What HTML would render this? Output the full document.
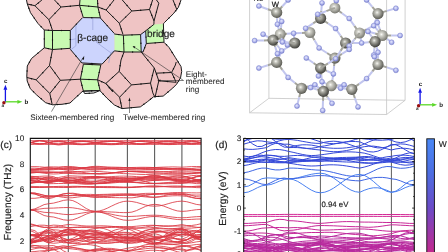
<!DOCTYPE html>
<html><head><meta charset="utf-8"><style>
html,body{margin:0;padding:0;background:#fff;width:448px;height:252px;overflow:hidden}
svg{display:block;text-rendering:geometricPrecision}
</style></head><body>
<svg width="448" height="252" viewBox="0 0 448 252">
<defs>
<radialGradient id="gWl" cx="0.42" cy="0.4" r="0.62"><stop offset="0" stop-color="#fbfbf8"/><stop offset="0.25" stop-color="#d2d2ca"/><stop offset="0.6" stop-color="#a8a8a0"/><stop offset="1" stop-color="#74746c"/></radialGradient>
<radialGradient id="gWm" cx="0.42" cy="0.4" r="0.62"><stop offset="0" stop-color="#f8f8f4"/><stop offset="0.25" stop-color="#c4c4bc"/><stop offset="0.6" stop-color="#8e8e86"/><stop offset="1" stop-color="#56564f"/></radialGradient>
<radialGradient id="gWd" cx="0.42" cy="0.4" r="0.62"><stop offset="0" stop-color="#f2f2ee"/><stop offset="0.25" stop-color="#b2b2aa"/><stop offset="0.6" stop-color="#777770"/><stop offset="1" stop-color="#3a3a36"/></radialGradient>
<radialGradient id="gN" cx="0.45" cy="0.4" r="0.6"><stop offset="0" stop-color="#e6e8fd"/><stop offset="0.55" stop-color="#b4b9ee"/><stop offset="1" stop-color="#7a82cf"/></radialGradient>
</defs>
<rect width="448" height="252" fill="#fff"/>
<polygon points="26.5,0.0 181.0,0.0 178.3,7.5 173.3,13.8 164.5,22.5 163.4,23.8 164.0,42.3 169.0,47.4 175.4,57.6 181.0,66.5 181.7,71.5 180.5,77.9 176.6,84.2 172.8,88.0 163.2,96.1 153.7,96.7 147.3,101.8 140.3,106.9 122.0,108.6 114.4,105.0 106.8,98.0 99.8,90.5 83.0,91.2 82.0,91.8 73.6,99.6 70.0,103.0 62.0,104.3 52.6,104.8 45.6,102.7 36.7,95.0 30.3,88.7 27.2,81.0 26.8,76.0 27.3,66.0 31.5,58.5 44.3,47.8 44.3,30.0 38.0,23.5 30.5,12.7 27.3,4.0" fill="#efc4c4"/>
<polygon points="80.0,0.0 97.5,0.0 97.9,7.0 100.4,17.8 83.3,17.6 79.5,5.3" fill="#c8fab2"/>
<polygon points="44.3,30.0 52.5,30.5 70.3,30.5 70.3,48.3 52.5,49.5 44.3,47.8" fill="#c8fab2"/>
<polygon points="114.3,34.0 123.4,35.2 124.0,52.0 114.3,50.8" fill="#c8fab2"/>
<polygon points="123.4,35.2 140.6,34.6 141.2,52.0 124.0,52.0" fill="#c8fab2"/>
<polygon points="145.7,30.8 153.9,24.4 163.4,23.8 164.0,42.2 146.3,43.5" fill="#c8fab2"/>
<polygon points="83.4,64.2 100.8,65.0 97.6,79.8 80.4,79.2" fill="#c8fab2"/>
<polygon points="80.4,79.2 97.6,79.8 100.1,90.5 83.4,91.1" fill="#c8fab2"/>
<polygon points="83.4,91.1 100.1,90.5 93.8,93.0 84.6,93.5" fill="#f4f4f4"/>
<polygon points="82.5,17.7 100.2,17.8 114.3,33.5 114.3,51.0 102.1,64.1 81.8,62.9 70.3,49.3 70.3,30.5" fill="#ccd4fd"/>
<polygon points="140.6,34.6 145.7,30.8 146.3,43.5 143.0,52.0 141.2,52.0" fill="#ccd4fd"/>
<g stroke="#98a0d8" stroke-width="0.7" fill="none"><polyline points="92.8,18 92.8,30"/><polyline points="95.8,41.8 110.7,52.7 114.3,50.9"/><polyline points="110.7,52.7 108.7,63"/><polyline points="75.9,24.5 75.9,45.8 70.5,50"/><polyline points="70.5,39.8 75.9,38.8"/></g>
<g stroke="#1a1a1a" stroke-width="1" fill="none" stroke-linejoin="round">
<polyline points="181.0,0.0 178.3,7.5 173.3,13.8 164.5,22.5 163.4,23.8 164.0,42.3 169.0,47.4 175.4,57.6 181.0,66.5 181.7,71.5 180.5,77.9 176.6,84.2 172.8,88.0 163.2,96.1 153.7,96.7 147.3,101.8 140.3,106.9 122.0,108.6 114.4,105.0 106.8,98.0 99.8,90.5 83.0,91.2 82.0,91.8 73.6,99.6 70.0,103.0 62.0,104.3 52.6,104.8 45.6,102.7 36.7,95.0 30.3,88.7 27.2,81.0 26.8,76.0 27.3,66.0 31.5,58.5 44.3,47.8 44.3,30.0 38.0,23.5 30.5,12.7 27.3,4.0 26.5,0.0"/>
<polyline points="27.3,4.0 34.9,5.7 41.9,0.0"/>
<polyline points="34.9,5.7 48.9,19.7 61.1,7.0 54.5,0.0"/>
<polyline points="61.1,7.0 79.5,5.3 97.9,7.0 106.1,10.0 114.0,0.0"/>
<polyline points="48.9,19.7 52.5,30.5"/>
<polyline points="80.0,0.0 79.5,5.3 83.3,17.6 100.4,17.8 97.9,7.0 97.5,0.0"/>
<polyline points="106.1,10.0 119.3,23.2"/>
<polyline points="122.3,0.0 131.8,11.0 149.5,9.5 152.6,0.0"/>
<polyline points="131.8,11.0 119.3,23.2 123.0,34.5"/>
<polyline points="149.5,9.5 154.0,21.0 153.9,24.4"/>
<polyline points="156.5,0.0 158.8,3.2 154.0,21.0"/>
<polyline points="173.0,0.0 176.8,9.5"/>
<polyline points="44.3,30.0 52.5,30.5 70.3,30.5 70.3,48.3 52.5,49.5 44.3,47.8"/>
<polyline points="52.5,30.5 52.5,49.5"/>
<polyline points="70.3,30.5 82.5,17.7"/>
<polyline points="100.2,17.8 114.3,33.5"/>
<polyline points="70.3,49.3 81.8,62.9 102.1,64.1 114.3,51.0"/>
<polyline points="114.3,34.0 123.4,35.2 140.6,34.6 141.2,52.0 124.0,52.0 114.3,50.8"/>
<polyline points="123.4,35.2 124.0,52.0"/>
<polyline points="140.6,34.6 145.7,30.8 153.9,24.4"/>
<polyline points="146.3,43.5 164.0,42.2"/>
<polyline points="141.2,52.0 143.0,52.0 146.3,43.5 145.7,30.8"/>
<polyline points="83.4,64.2 100.8,65.0 97.6,79.8 80.4,79.2 83.4,64.2"/>
<polyline points="97.6,79.8 100.1,90.5 83.4,91.1 80.4,79.2"/>
<polyline points="83.4,91.1 84.6,93.5 93.8,93.0 100.1,90.5"/>
<polyline points="49.5,65.5 60.4,80.3 49.8,93.5 36.1,79.8 49.5,65.5"/>
<polyline points="49.5,65.5 52.5,49.5"/>
<polyline points="36.1,79.8 26.9,77.5"/>
<polyline points="49.8,93.5 52.2,104.6"/>
<polyline points="60.4,80.3 80.4,79.2"/>
<polyline points="97.6,79.8 105.8,83.5 119.2,71.4 131.5,84.9 119.6,97.2 105.8,83.5"/>
<polyline points="119.2,71.4 121.0,60.0 124.0,52.0"/>
<polyline points="105.8,83.5 112.8,92.0"/>
<polyline points="131.5,84.9 150.5,83.1"/>
<polyline points="119.6,97.2 122.0,108.6"/>
<polyline points="141.2,52.0 154.3,68.0 150.5,83.1 152.8,92.9 155.0,97.4"/>
<polyline points="154.3,68.0 158.8,80.8 155.0,97.4"/>
<polyline points="156.0,73.2 171.6,72.5 176.2,82.3 158.8,80.8"/>
<polyline points="171.6,72.5 175.4,65.0 176.2,62.0"/>
</g>
<g fill="#111"><circle cx="27.1" cy="71.0" r="0.7"/><circle cx="28.8" cy="84.8" r="0.7"/><circle cx="28.9" cy="8.3" r="0.7"/><circle cx="29.4" cy="62.2" r="0.7"/><circle cx="31.1" cy="4.8" r="0.7"/><circle cx="31.5" cy="78.7" r="0.7"/><circle cx="33.5" cy="91.8" r="0.7"/><circle cx="34.2" cy="18.1" r="0.7"/><circle cx="37.9" cy="53.1" r="0.7"/><circle cx="38.4" cy="2.9" r="0.7"/><circle cx="41.1" cy="26.8" r="0.7"/><circle cx="41.2" cy="98.8" r="0.7"/><circle cx="41.9" cy="12.7" r="0.7"/><circle cx="42.8" cy="72.7" r="0.7"/><circle cx="43.0" cy="86.7" r="0.7"/><circle cx="44.3" cy="38.9" r="0.7"/><circle cx="48.4" cy="30.2" r="0.7"/><circle cx="48.4" cy="48.6" r="0.7"/><circle cx="49.1" cy="103.8" r="0.7"/><circle cx="50.7" cy="25.1" r="0.7"/><circle cx="51.0" cy="57.5" r="0.7"/><circle cx="51.0" cy="99.0" r="0.7"/><circle cx="52.5" cy="40.0" r="0.7"/><circle cx="55.0" cy="13.3" r="0.7"/><circle cx="55.0" cy="72.9" r="0.7"/><circle cx="55.1" cy="86.9" r="0.7"/><circle cx="57.3" cy="104.5" r="0.7"/><circle cx="57.8" cy="3.5" r="0.7"/><circle cx="61.4" cy="30.5" r="0.7"/><circle cx="61.4" cy="48.9" r="0.7"/><circle cx="66.0" cy="103.7" r="0.7"/><circle cx="70.3" cy="6.2" r="0.7"/><circle cx="70.3" cy="39.4" r="0.7"/><circle cx="70.4" cy="79.8" r="0.7"/><circle cx="76.0" cy="56.1" r="0.7"/><circle cx="76.4" cy="24.1" r="0.7"/><circle cx="77.8" cy="95.7" r="0.7"/><circle cx="81.4" cy="11.5" r="0.7"/><circle cx="81.9" cy="71.7" r="0.7"/><circle cx="81.9" cy="85.2" r="0.7"/><circle cx="88.7" cy="6.2" r="0.7"/><circle cx="89.0" cy="79.5" r="0.7"/><circle cx="89.2" cy="93.2" r="0.7"/><circle cx="91.4" cy="90.8" r="0.7"/><circle cx="91.8" cy="17.7" r="0.7"/><circle cx="91.8" cy="90.8" r="0.7"/><circle cx="91.9" cy="63.5" r="0.7"/><circle cx="92.1" cy="64.6" r="0.7"/><circle cx="97.7" cy="3.5" r="0.7"/><circle cx="98.8" cy="85.2" r="0.7"/><circle cx="99.2" cy="12.4" r="0.7"/><circle cx="99.2" cy="72.4" r="0.7"/><circle cx="101.7" cy="81.7" r="0.7"/><circle cx="102.0" cy="8.5" r="0.7"/><circle cx="103.3" cy="94.2" r="0.7"/><circle cx="107.2" cy="25.6" r="0.7"/><circle cx="108.2" cy="57.5" r="0.7"/><circle cx="109.3" cy="87.8" r="0.7"/><circle cx="110.0" cy="5.0" r="0.7"/><circle cx="110.6" cy="101.5" r="0.7"/><circle cx="112.5" cy="77.5" r="0.7"/><circle cx="112.7" cy="16.6" r="0.7"/><circle cx="112.7" cy="90.3" r="0.7"/><circle cx="118.2" cy="106.8" r="0.7"/><circle cx="118.8" cy="34.6" r="0.7"/><circle cx="119.2" cy="51.4" r="0.7"/><circle cx="120.1" cy="65.7" r="0.7"/><circle cx="120.8" cy="102.9" r="0.7"/><circle cx="121.2" cy="28.9" r="0.7"/><circle cx="122.5" cy="56.0" r="0.7"/><circle cx="123.7" cy="43.6" r="0.7"/><circle cx="125.3" cy="78.2" r="0.7"/><circle cx="125.5" cy="91.1" r="0.7"/><circle cx="125.6" cy="17.1" r="0.7"/><circle cx="127.1" cy="5.5" r="0.7"/><circle cx="131.2" cy="107.8" r="0.7"/><circle cx="132.0" cy="34.9" r="0.7"/><circle cx="132.6" cy="52.0" r="0.7"/><circle cx="140.7" cy="10.2" r="0.7"/><circle cx="140.9" cy="43.3" r="0.7"/><circle cx="141.0" cy="84.0" r="0.7"/><circle cx="143.8" cy="104.3" r="0.7"/><circle cx="144.7" cy="47.8" r="0.7"/><circle cx="146.0" cy="37.1" r="0.7"/><circle cx="147.8" cy="60.0" r="0.7"/><circle cx="149.8" cy="27.6" r="0.7"/><circle cx="150.5" cy="99.2" r="0.7"/><circle cx="151.1" cy="4.8" r="0.7"/><circle cx="151.7" cy="88.0" r="0.7"/><circle cx="151.8" cy="15.2" r="0.7"/><circle cx="152.4" cy="75.5" r="0.7"/><circle cx="155.2" cy="42.9" r="0.7"/><circle cx="156.4" cy="12.1" r="0.7"/><circle cx="156.6" cy="74.4" r="0.7"/><circle cx="156.9" cy="89.1" r="0.7"/><circle cx="158.4" cy="96.4" r="0.7"/><circle cx="163.7" cy="33.0" r="0.7"/><circle cx="163.8" cy="72.8" r="0.7"/><circle cx="166.5" cy="44.8" r="0.7"/><circle cx="167.5" cy="81.5" r="0.7"/><circle cx="168.0" cy="92.0" r="0.7"/><circle cx="168.9" cy="18.1" r="0.7"/><circle cx="172.2" cy="52.5" r="0.7"/><circle cx="173.5" cy="68.8" r="0.7"/><circle cx="173.9" cy="77.4" r="0.7"/><circle cx="174.9" cy="4.8" r="0.7"/><circle cx="175.8" cy="10.7" r="0.7"/><circle cx="178.2" cy="62.0" r="0.7"/><circle cx="178.6" cy="81.1" r="0.7"/><circle cx="179.7" cy="3.8" r="0.7"/></g>
<g stroke="#333" stroke-width="0.6" fill="none"><line x1="51.5" y1="111.6" x2="83.0" y2="57.6"/><line x1="129.5" y1="113" x2="129.5" y2="100"/><line x1="183.5" y1="80.5" x2="159" y2="80.5"/><line x1="183.5" y1="80.5" x2="134.2" y2="47"/></g>
<g fill="#111"><polygon points="84.2,55.8 82.0,59.3 84.0,59.8"/><polygon points="129.5,97.5 128.4,101 130.6,101"/><polygon points="157.2,80.5 160.5,79.4 160.5,81.6"/><polygon points="132.6,46 135.4,46.4 134.3,48.6"/></g>
<g font-family="Liberation Sans, sans-serif" fill="#222" stroke="#222" stroke-width="0.18"><text x="77.3" y="41.1" font-size="10">β-cage</text><text x="147" y="37.2" font-size="10">bridge</text><text x="30.2" y="119.7" font-size="8.1" stroke-width="0.04">Sixteen-membered ring</text><text x="122.9" y="119.7" font-size="8.1" stroke-width="0.04">Twelve-membered ring</text><text x="185.8" y="76.5" font-size="8.1" stroke-width="0.04">Eight-</text><text x="185.8" y="84.1" font-size="8.1" stroke-width="0.04">membered</text><text x="185.8" y="91.7" font-size="8.1" stroke-width="0.04">ring</text></g>
<line x1="5.4" y1="101.8" x2="5.4" y2="89.3" stroke="#1414e6" stroke-width="1.3"/>
<polygon points="5.4,84.8 3.5000000000000004,89.8 7.300000000000001,89.8" fill="#1414e6"/>
<line x1="5.4" y1="101.8" x2="17.9" y2="101.8" stroke="#5ad828" stroke-width="1.3"/>
<polygon points="22.4,101.8 17.4,99.89999999999999 17.4,103.7" fill="#5ad828"/>
<circle cx="3.9000000000000004" cy="102.8" r="1.7" fill="#9a1010"/>
<g font-family="Liberation Sans, sans-serif" font-size="6.2" font-weight="bold" fill="#222"><text x="5.800000000000001" y="83.0" text-anchor="middle">c</text><text x="24.5" y="104.1">b</text><text x="1.4000000000000004" y="107.0" font-size="4.6">a</text></g>
<g stroke="#c4c4c4" stroke-width="0.8" fill="none"><polyline points="249.6,0 249.6,112.8 386.6,114.5 386.6,0"/><polyline points="268.9,0 268.9,98.3 405.1,100.3 405.1,0"/><line x1="249.6" y1="112.8" x2="268.9" y2="98.3"/><line x1="386.6" y1="114.5" x2="405.1" y2="100.3"/></g>
<line x1="273.1" y1="40.1" x2="263.9" y2="40.4" stroke="#a4a49c" stroke-width="2"/>
<line x1="263.9" y1="40.4" x2="254.6" y2="40.6" stroke="#c2c6ee" stroke-width="2"/>
<line x1="273.1" y1="40.1" x2="268.1" y2="37.2" stroke="#a4a49c" stroke-width="2"/>
<line x1="268.1" y1="37.2" x2="263.1" y2="34.2" stroke="#c2c6ee" stroke-width="2"/>
<line x1="273.1" y1="40.1" x2="275.2" y2="46.9" stroke="#a4a49c" stroke-width="2"/>
<line x1="275.2" y1="46.9" x2="277.4" y2="53.7" stroke="#c2c6ee" stroke-width="2"/>
<line x1="273.1" y1="40.1" x2="277.4" y2="45.5" stroke="#a4a49c" stroke-width="2"/>
<line x1="277.4" y1="45.5" x2="281.7" y2="50.9" stroke="#c2c6ee" stroke-width="2"/>
<line x1="276.7" y1="12.4" x2="267.8" y2="9.2" stroke="#a4a49c" stroke-width="2"/>
<line x1="267.8" y1="9.2" x2="258.9" y2="6.0" stroke="#c2c6ee" stroke-width="2"/>
<line x1="276.7" y1="12.4" x2="277.0" y2="18.4" stroke="#a4a49c" stroke-width="2"/>
<line x1="277.0" y1="18.4" x2="277.4" y2="24.3" stroke="#c2c6ee" stroke-width="2"/>
<line x1="276.7" y1="12.4" x2="279.2" y2="16.9" stroke="#a4a49c" stroke-width="2"/>
<line x1="279.2" y1="16.9" x2="281.7" y2="21.4" stroke="#c2c6ee" stroke-width="2"/>
<line x1="276.7" y1="12.4" x2="282.4" y2="6.2" stroke="#a4a49c" stroke-width="2"/>
<line x1="282.4" y1="6.2" x2="288.1" y2="0" stroke="#c2c6ee" stroke-width="2"/>
<line x1="276.7" y1="62.4" x2="267.8" y2="65.2" stroke="#a4a49c" stroke-width="2"/>
<line x1="267.8" y1="65.2" x2="258.9" y2="68.1" stroke="#c2c6ee" stroke-width="2"/>
<line x1="276.7" y1="62.4" x2="277.0" y2="58.0" stroke="#a4a49c" stroke-width="2"/>
<line x1="277.0" y1="58.0" x2="277.4" y2="53.7" stroke="#c2c6ee" stroke-width="2"/>
<line x1="276.7" y1="62.4" x2="279.2" y2="56.6" stroke="#a4a49c" stroke-width="2"/>
<line x1="279.2" y1="56.6" x2="281.7" y2="50.9" stroke="#c2c6ee" stroke-width="2"/>
<line x1="276.7" y1="62.4" x2="282.4" y2="69.9" stroke="#a4a49c" stroke-width="2"/>
<line x1="282.4" y1="69.9" x2="288.1" y2="77.4" stroke="#c2c6ee" stroke-width="2"/>
<line x1="280.3" y1="34.2" x2="278.9" y2="29.2" stroke="#a4a49c" stroke-width="2"/>
<line x1="278.9" y1="29.2" x2="277.4" y2="24.3" stroke="#c2c6ee" stroke-width="2"/>
<line x1="280.3" y1="34.2" x2="281.0" y2="27.8" stroke="#a4a49c" stroke-width="2"/>
<line x1="281.0" y1="27.8" x2="281.7" y2="21.4" stroke="#c2c6ee" stroke-width="2"/>
<line x1="280.3" y1="34.2" x2="283.9" y2="39.5" stroke="#a4a49c" stroke-width="2"/>
<line x1="283.9" y1="39.5" x2="287.4" y2="44.9" stroke="#c2c6ee" stroke-width="2"/>
<line x1="280.3" y1="34.2" x2="287.0" y2="33.8" stroke="#a4a49c" stroke-width="2"/>
<line x1="287.0" y1="33.8" x2="293.6" y2="33.3" stroke="#c2c6ee" stroke-width="2"/>
<line x1="294.8" y1="43" x2="288.2" y2="47.0" stroke="#a4a49c" stroke-width="2"/>
<line x1="288.2" y1="47.0" x2="281.7" y2="50.9" stroke="#c2c6ee" stroke-width="2"/>
<line x1="294.8" y1="43" x2="291.1" y2="44.0" stroke="#a4a49c" stroke-width="2"/>
<line x1="291.1" y1="44.0" x2="287.4" y2="44.9" stroke="#c2c6ee" stroke-width="2"/>
<line x1="294.8" y1="43" x2="294.2" y2="38.1" stroke="#a4a49c" stroke-width="2"/>
<line x1="294.2" y1="38.1" x2="293.6" y2="33.3" stroke="#c2c6ee" stroke-width="2"/>
<line x1="301.5" y1="88.3" x2="294.8" y2="82.8" stroke="#a4a49c" stroke-width="2"/>
<line x1="294.8" y1="82.8" x2="288.1" y2="77.4" stroke="#c2c6ee" stroke-width="2"/>
<line x1="301.5" y1="88.3" x2="299.2" y2="97.2" stroke="#a4a49c" stroke-width="2"/>
<line x1="299.2" y1="97.2" x2="297" y2="106.1" stroke="#c2c6ee" stroke-width="2"/>
<line x1="301.5" y1="88.3" x2="306.1" y2="87.9" stroke="#a4a49c" stroke-width="2"/>
<line x1="306.1" y1="87.9" x2="310.6" y2="87.6" stroke="#c2c6ee" stroke-width="2"/>
<line x1="301.5" y1="88.3" x2="308.2" y2="86.5" stroke="#a4a49c" stroke-width="2"/>
<line x1="308.2" y1="86.5" x2="314.9" y2="84.8" stroke="#c2c6ee" stroke-width="2"/>
<line x1="309.9" y1="32.5" x2="301.8" y2="32.9" stroke="#a4a49c" stroke-width="2"/>
<line x1="301.8" y1="32.9" x2="293.6" y2="33.3" stroke="#c2c6ee" stroke-width="2"/>
<line x1="309.9" y1="32.5" x2="307.8" y2="30.4" stroke="#a4a49c" stroke-width="2"/>
<line x1="307.8" y1="30.4" x2="305.6" y2="28.3" stroke="#c2c6ee" stroke-width="2"/>
<line x1="309.9" y1="32.5" x2="314.5" y2="40.2" stroke="#a4a49c" stroke-width="2"/>
<line x1="314.5" y1="40.2" x2="319.1" y2="48" stroke="#c2c6ee" stroke-width="2"/>
<line x1="320.6" y1="18.3" x2="313.1" y2="23.3" stroke="#a4a49c" stroke-width="2"/>
<line x1="313.1" y1="23.3" x2="305.6" y2="28.3" stroke="#c2c6ee" stroke-width="2"/>
<line x1="320.6" y1="18.3" x2="321.3" y2="10.6" stroke="#a4a49c" stroke-width="2"/>
<line x1="321.3" y1="10.6" x2="322" y2="2.9" stroke="#c2c6ee" stroke-width="2"/>
<line x1="320.6" y1="18.3" x2="328.1" y2="23.5" stroke="#a4a49c" stroke-width="2"/>
<line x1="328.1" y1="23.5" x2="335.6" y2="28.6" stroke="#c2c6ee" stroke-width="2"/>
<line x1="320.6" y1="68.1" x2="313.5" y2="63.0" stroke="#a4a49c" stroke-width="2"/>
<line x1="313.5" y1="63.0" x2="306.3" y2="58" stroke="#c2c6ee" stroke-width="2"/>
<line x1="320.6" y1="68.1" x2="319.5" y2="72.0" stroke="#a4a49c" stroke-width="2"/>
<line x1="319.5" y1="72.0" x2="318.4" y2="76" stroke="#c2c6ee" stroke-width="2"/>
<line x1="320.6" y1="68.1" x2="321.3" y2="74.9" stroke="#a4a49c" stroke-width="2"/>
<line x1="321.3" y1="74.9" x2="322" y2="81.7" stroke="#c2c6ee" stroke-width="2"/>
<line x1="320.6" y1="68.1" x2="327.0" y2="71.0" stroke="#a4a49c" stroke-width="2"/>
<line x1="327.0" y1="71.0" x2="333.4" y2="73.9" stroke="#c2c6ee" stroke-width="2"/>
<line x1="323.4" y1="91.4" x2="317.0" y2="89.5" stroke="#a4a49c" stroke-width="2"/>
<line x1="317.0" y1="89.5" x2="310.6" y2="87.6" stroke="#c2c6ee" stroke-width="2"/>
<line x1="323.4" y1="91.4" x2="319.1" y2="88.1" stroke="#a4a49c" stroke-width="2"/>
<line x1="319.1" y1="88.1" x2="314.9" y2="84.8" stroke="#c2c6ee" stroke-width="2"/>
<line x1="323.4" y1="91.4" x2="322.7" y2="86.6" stroke="#a4a49c" stroke-width="2"/>
<line x1="322.7" y1="86.6" x2="322" y2="81.7" stroke="#c2c6ee" stroke-width="2"/>
<line x1="323.4" y1="91.4" x2="323.0" y2="100.9" stroke="#a4a49c" stroke-width="2"/>
<line x1="323.0" y1="100.9" x2="322.7" y2="110.4" stroke="#c2c6ee" stroke-width="2"/>
<line x1="323.4" y1="91.4" x2="327.7" y2="97.3" stroke="#a4a49c" stroke-width="2"/>
<line x1="327.7" y1="97.3" x2="332" y2="103.3" stroke="#c2c6ee" stroke-width="2"/>
<line x1="331.3" y1="85.8" x2="326.6" y2="83.8" stroke="#a4a49c" stroke-width="2"/>
<line x1="326.6" y1="83.8" x2="322" y2="81.7" stroke="#c2c6ee" stroke-width="2"/>
<line x1="331.3" y1="85.8" x2="332.4" y2="79.8" stroke="#a4a49c" stroke-width="2"/>
<line x1="332.4" y1="79.8" x2="333.4" y2="73.9" stroke="#c2c6ee" stroke-width="2"/>
<line x1="331.3" y1="85.8" x2="336.0" y2="87.0" stroke="#a4a49c" stroke-width="2"/>
<line x1="336.0" y1="87.0" x2="340.6" y2="88.2" stroke="#c2c6ee" stroke-width="2"/>
<line x1="331.3" y1="85.8" x2="337.7" y2="85.3" stroke="#a4a49c" stroke-width="2"/>
<line x1="337.7" y1="85.3" x2="344.1" y2="84.8" stroke="#c2c6ee" stroke-width="2"/>
<line x1="334.9" y1="7.9" x2="335.6" y2="4.3" stroke="#a4a49c" stroke-width="2"/>
<line x1="335.6" y1="4.3" x2="336.3" y2="0.7" stroke="#c2c6ee" stroke-width="2"/>
<line x1="334.9" y1="7.9" x2="342.0" y2="13.2" stroke="#a4a49c" stroke-width="2"/>
<line x1="342.0" y1="13.2" x2="349.2" y2="18.5" stroke="#c2c6ee" stroke-width="2"/>
<line x1="334.9" y1="58.1" x2="327.0" y2="53.0" stroke="#a4a49c" stroke-width="2"/>
<line x1="327.0" y1="53.0" x2="319.1" y2="48" stroke="#c2c6ee" stroke-width="2"/>
<line x1="334.9" y1="58.1" x2="334.1" y2="66.0" stroke="#a4a49c" stroke-width="2"/>
<line x1="334.1" y1="66.0" x2="333.4" y2="73.9" stroke="#c2c6ee" stroke-width="2"/>
<line x1="345.6" y1="43" x2="340.6" y2="35.8" stroke="#a4a49c" stroke-width="2"/>
<line x1="340.6" y1="35.8" x2="335.6" y2="28.6" stroke="#c2c6ee" stroke-width="2"/>
<line x1="345.6" y1="43" x2="353.6" y2="43.0" stroke="#a4a49c" stroke-width="2"/>
<line x1="353.6" y1="43.0" x2="361.6" y2="43" stroke="#c2c6ee" stroke-width="2"/>
<line x1="351.8" y1="89.3" x2="346.2" y2="88.8" stroke="#a4a49c" stroke-width="2"/>
<line x1="346.2" y1="88.8" x2="340.6" y2="88.2" stroke="#c2c6ee" stroke-width="2"/>
<line x1="351.8" y1="89.3" x2="348.0" y2="87.0" stroke="#a4a49c" stroke-width="2"/>
<line x1="348.0" y1="87.0" x2="344.1" y2="84.8" stroke="#c2c6ee" stroke-width="2"/>
<line x1="351.8" y1="89.3" x2="354.9" y2="98.1" stroke="#a4a49c" stroke-width="2"/>
<line x1="354.9" y1="98.1" x2="358" y2="106.9" stroke="#c2c6ee" stroke-width="2"/>
<line x1="351.8" y1="89.3" x2="359.2" y2="83.9" stroke="#a4a49c" stroke-width="2"/>
<line x1="359.2" y1="83.9" x2="366.6" y2="78.6" stroke="#c2c6ee" stroke-width="2"/>
<line x1="359.6" y1="33" x2="354.4" y2="25.8" stroke="#a4a49c" stroke-width="2"/>
<line x1="354.4" y1="25.8" x2="349.2" y2="18.5" stroke="#c2c6ee" stroke-width="2"/>
<line x1="359.6" y1="33" x2="360.6" y2="38.0" stroke="#a4a49c" stroke-width="2"/>
<line x1="360.6" y1="38.0" x2="361.6" y2="43" stroke="#c2c6ee" stroke-width="2"/>
<line x1="359.6" y1="33" x2="363.8" y2="32.2" stroke="#a4a49c" stroke-width="2"/>
<line x1="363.8" y1="32.2" x2="368" y2="31.5" stroke="#c2c6ee" stroke-width="2"/>
<line x1="359.6" y1="33" x2="366.6" y2="29.4" stroke="#a4a49c" stroke-width="2"/>
<line x1="366.6" y1="29.4" x2="373.7" y2="25.7" stroke="#c2c6ee" stroke-width="2"/>
<line x1="375.1" y1="41.6" x2="368.4" y2="42.3" stroke="#a4a49c" stroke-width="2"/>
<line x1="368.4" y1="42.3" x2="361.6" y2="43" stroke="#c2c6ee" stroke-width="2"/>
<line x1="375.1" y1="41.6" x2="371.6" y2="36.5" stroke="#a4a49c" stroke-width="2"/>
<line x1="371.6" y1="36.5" x2="368" y2="31.5" stroke="#c2c6ee" stroke-width="2"/>
<line x1="375.1" y1="41.6" x2="374.4" y2="48.4" stroke="#a4a49c" stroke-width="2"/>
<line x1="374.4" y1="48.4" x2="373.7" y2="55.1" stroke="#c2c6ee" stroke-width="2"/>
<line x1="375.1" y1="41.6" x2="376.6" y2="47.0" stroke="#a4a49c" stroke-width="2"/>
<line x1="376.6" y1="47.0" x2="378" y2="52.3" stroke="#c2c6ee" stroke-width="2"/>
<line x1="378" y1="13.6" x2="372.3" y2="6.8" stroke="#a4a49c" stroke-width="2"/>
<line x1="372.3" y1="6.8" x2="366.6" y2="0" stroke="#c2c6ee" stroke-width="2"/>
<line x1="378" y1="13.6" x2="375.9" y2="19.6" stroke="#a4a49c" stroke-width="2"/>
<line x1="375.9" y1="19.6" x2="373.7" y2="25.7" stroke="#c2c6ee" stroke-width="2"/>
<line x1="378" y1="13.6" x2="377.6" y2="18.1" stroke="#a4a49c" stroke-width="2"/>
<line x1="377.6" y1="18.1" x2="377.3" y2="22.6" stroke="#c2c6ee" stroke-width="2"/>
<line x1="378" y1="13.6" x2="386.9" y2="10.9" stroke="#a4a49c" stroke-width="2"/>
<line x1="386.9" y1="10.9" x2="395.9" y2="8.3" stroke="#c2c6ee" stroke-width="2"/>
<line x1="378" y1="64.5" x2="372.3" y2="71.5" stroke="#a4a49c" stroke-width="2"/>
<line x1="372.3" y1="71.5" x2="366.6" y2="78.6" stroke="#c2c6ee" stroke-width="2"/>
<line x1="378" y1="64.5" x2="375.9" y2="59.8" stroke="#a4a49c" stroke-width="2"/>
<line x1="375.9" y1="59.8" x2="373.7" y2="55.1" stroke="#c2c6ee" stroke-width="2"/>
<line x1="378" y1="64.5" x2="376.2" y2="60.6" stroke="#a4a49c" stroke-width="2"/>
<line x1="376.2" y1="60.6" x2="374.4" y2="56.7" stroke="#c2c6ee" stroke-width="2"/>
<line x1="378" y1="64.5" x2="378.0" y2="58.4" stroke="#a4a49c" stroke-width="2"/>
<line x1="378.0" y1="58.4" x2="378" y2="52.3" stroke="#c2c6ee" stroke-width="2"/>
<line x1="378" y1="64.5" x2="386.9" y2="67.4" stroke="#a4a49c" stroke-width="2"/>
<line x1="386.9" y1="67.4" x2="395.9" y2="70.3" stroke="#c2c6ee" stroke-width="2"/>
<line x1="382.3" y1="35.5" x2="375.1" y2="33.5" stroke="#a4a49c" stroke-width="2"/>
<line x1="375.1" y1="33.5" x2="368" y2="31.5" stroke="#c2c6ee" stroke-width="2"/>
<line x1="382.3" y1="35.5" x2="378.0" y2="30.6" stroke="#a4a49c" stroke-width="2"/>
<line x1="378.0" y1="30.6" x2="373.7" y2="25.7" stroke="#c2c6ee" stroke-width="2"/>
<line x1="382.3" y1="35.5" x2="379.8" y2="29.1" stroke="#a4a49c" stroke-width="2"/>
<line x1="379.8" y1="29.1" x2="377.3" y2="22.6" stroke="#c2c6ee" stroke-width="2"/>
<line x1="382.3" y1="35.5" x2="387.0" y2="38.9" stroke="#a4a49c" stroke-width="2"/>
<line x1="387.0" y1="38.9" x2="391.6" y2="42.3" stroke="#c2c6ee" stroke-width="2"/>
<line x1="382.3" y1="35.5" x2="391.2" y2="35.5" stroke="#a4a49c" stroke-width="2"/>
<line x1="391.2" y1="35.5" x2="400.1" y2="35.5" stroke="#c2c6ee" stroke-width="2"/>
<circle cx="334.9" cy="7.9" r="5.5" fill="url(#gWl)"/>
<circle cx="280.3" cy="34.2" r="5.5" fill="url(#gWl)"/>
<circle cx="309.9" cy="32.5" r="5.5" fill="url(#gWl)"/>
<circle cx="359.6" cy="33" r="5.5" fill="url(#gWl)"/>
<circle cx="382.3" cy="35.5" r="5.5" fill="url(#gWl)"/>
<circle cx="331.3" cy="85.8" r="5.5" fill="url(#gWl)"/>
<circle cx="258.9" cy="6.0" r="2.5" fill="url(#gN)" stroke="#7880cc" stroke-width="0.45"/>
<circle cx="288.1" cy="0" r="2.5" fill="url(#gN)" stroke="#7880cc" stroke-width="0.45"/>
<circle cx="277.4" cy="24.3" r="2.5" fill="url(#gN)" stroke="#7880cc" stroke-width="0.45"/>
<circle cx="281.7" cy="21.4" r="2.5" fill="url(#gN)" stroke="#7880cc" stroke-width="0.45"/>
<circle cx="263.1" cy="34.2" r="2.5" fill="url(#gN)" stroke="#7880cc" stroke-width="0.45"/>
<circle cx="293.6" cy="33.3" r="2.5" fill="url(#gN)" stroke="#7880cc" stroke-width="0.45"/>
<circle cx="322" cy="2.9" r="2.5" fill="url(#gN)" stroke="#7880cc" stroke-width="0.45"/>
<circle cx="336.3" cy="0.7" r="2.5" fill="url(#gN)" stroke="#7880cc" stroke-width="0.45"/>
<circle cx="349.2" cy="18.5" r="2.5" fill="url(#gN)" stroke="#7880cc" stroke-width="0.45"/>
<circle cx="335.6" cy="28.6" r="2.5" fill="url(#gN)" stroke="#7880cc" stroke-width="0.45"/>
<circle cx="305.6" cy="28.3" r="2.5" fill="url(#gN)" stroke="#7880cc" stroke-width="0.45"/>
<circle cx="366.6" cy="0" r="2.5" fill="url(#gN)" stroke="#7880cc" stroke-width="0.45"/>
<circle cx="395.9" cy="8.3" r="2.5" fill="url(#gN)" stroke="#7880cc" stroke-width="0.45"/>
<circle cx="377.3" cy="22.6" r="2.5" fill="url(#gN)" stroke="#7880cc" stroke-width="0.45"/>
<circle cx="373.7" cy="25.7" r="2.5" fill="url(#gN)" stroke="#7880cc" stroke-width="0.45"/>
<circle cx="368" cy="31.5" r="2.5" fill="url(#gN)" stroke="#7880cc" stroke-width="0.45"/>
<circle cx="400.1" cy="35.5" r="2.5" fill="url(#gN)" stroke="#7880cc" stroke-width="0.45"/>
<circle cx="254.6" cy="40.6" r="2.5" fill="url(#gN)" stroke="#7880cc" stroke-width="0.45"/>
<circle cx="287.4" cy="44.9" r="2.5" fill="url(#gN)" stroke="#7880cc" stroke-width="0.45"/>
<circle cx="281.7" cy="50.9" r="2.5" fill="url(#gN)" stroke="#7880cc" stroke-width="0.45"/>
<circle cx="277.4" cy="53.7" r="2.5" fill="url(#gN)" stroke="#7880cc" stroke-width="0.45"/>
<circle cx="319.1" cy="48" r="2.5" fill="url(#gN)" stroke="#7880cc" stroke-width="0.45"/>
<circle cx="306.3" cy="58" r="2.5" fill="url(#gN)" stroke="#7880cc" stroke-width="0.45"/>
<circle cx="391.6" cy="42.3" r="2.5" fill="url(#gN)" stroke="#7880cc" stroke-width="0.45"/>
<circle cx="361.6" cy="43" r="2.5" fill="url(#gN)" stroke="#7880cc" stroke-width="0.45"/>
<circle cx="378" cy="52.3" r="2.5" fill="url(#gN)" stroke="#7880cc" stroke-width="0.45"/>
<circle cx="373.7" cy="55.1" r="2.5" fill="url(#gN)" stroke="#7880cc" stroke-width="0.45"/>
<circle cx="258.9" cy="68.1" r="2.5" fill="url(#gN)" stroke="#7880cc" stroke-width="0.45"/>
<circle cx="288.1" cy="77.4" r="2.5" fill="url(#gN)" stroke="#7880cc" stroke-width="0.45"/>
<circle cx="318.4" cy="76" r="2.5" fill="url(#gN)" stroke="#7880cc" stroke-width="0.45"/>
<circle cx="322" cy="81.7" r="2.5" fill="url(#gN)" stroke="#7880cc" stroke-width="0.45"/>
<circle cx="333.4" cy="73.9" r="2.5" fill="url(#gN)" stroke="#7880cc" stroke-width="0.45"/>
<circle cx="310.6" cy="87.6" r="2.5" fill="url(#gN)" stroke="#7880cc" stroke-width="0.45"/>
<circle cx="314.9" cy="84.8" r="2.5" fill="url(#gN)" stroke="#7880cc" stroke-width="0.45"/>
<circle cx="340.6" cy="88.2" r="2.5" fill="url(#gN)" stroke="#7880cc" stroke-width="0.45"/>
<circle cx="344.1" cy="84.8" r="2.5" fill="url(#gN)" stroke="#7880cc" stroke-width="0.45"/>
<circle cx="374.4" cy="56.7" r="2.5" fill="url(#gN)" stroke="#7880cc" stroke-width="0.45"/>
<circle cx="395.9" cy="70.3" r="2.5" fill="url(#gN)" stroke="#7880cc" stroke-width="0.45"/>
<circle cx="366.6" cy="78.6" r="2.5" fill="url(#gN)" stroke="#7880cc" stroke-width="0.45"/>
<circle cx="297" cy="106.1" r="2.5" fill="url(#gN)" stroke="#7880cc" stroke-width="0.45"/>
<circle cx="322.7" cy="110.4" r="2.5" fill="url(#gN)" stroke="#7880cc" stroke-width="0.45"/>
<circle cx="332" cy="103.3" r="2.5" fill="url(#gN)" stroke="#7880cc" stroke-width="0.45"/>
<circle cx="358" cy="106.9" r="2.5" fill="url(#gN)" stroke="#7880cc" stroke-width="0.45"/>
<circle cx="276.7" cy="12.4" r="5.6" fill="url(#gWm)"/>
<circle cx="378" cy="13.6" r="5.6" fill="url(#gWm)"/>
<circle cx="276.7" cy="62.4" r="5.6" fill="url(#gWm)"/>
<circle cx="334.9" cy="58.1" r="5.6" fill="url(#gWm)"/>
<circle cx="378" cy="64.5" r="5.6" fill="url(#gWm)"/>
<circle cx="301.5" cy="88.3" r="5.6" fill="url(#gWm)"/>
<circle cx="351.8" cy="89.3" r="5.6" fill="url(#gWm)"/>
<circle cx="320.6" cy="18.3" r="5.6" fill="url(#gWd)"/>
<circle cx="273.1" cy="40.1" r="5.6" fill="url(#gWd)"/>
<circle cx="294.8" cy="43" r="5.6" fill="url(#gWd)"/>
<circle cx="345.6" cy="43" r="5.6" fill="url(#gWd)"/>
<circle cx="375.1" cy="41.6" r="5.6" fill="url(#gWd)"/>
<circle cx="320.6" cy="68.1" r="5.6" fill="url(#gWd)"/>
<circle cx="323.4" cy="91.4" r="5.6" fill="url(#gWd)"/>
<line x1="273.1" y1="40.1" x2="277.8" y2="41.0" stroke="#a4a49c" stroke-width="2"/><line x1="277.8" y1="41.0" x2="282.4" y2="42" stroke="#c2c6ee" stroke-width="2"/>
<line x1="280.3" y1="34.2" x2="281.4" y2="38.1" stroke="#a4a49c" stroke-width="2"/><line x1="281.4" y1="38.1" x2="282.4" y2="42" stroke="#c2c6ee" stroke-width="2"/>
<line x1="294.8" y1="43" x2="288.6" y2="42.5" stroke="#a4a49c" stroke-width="2"/><line x1="288.6" y1="42.5" x2="282.4" y2="42" stroke="#c2c6ee" stroke-width="2"/>
<line x1="320.6" y1="18.3" x2="319.1" y2="16.3" stroke="#a4a49c" stroke-width="2"/><line x1="319.1" y1="16.3" x2="317.7" y2="14.3" stroke="#c2c6ee" stroke-width="2"/>
<line x1="320.6" y1="68.1" x2="328.1" y2="63.4" stroke="#a4a49c" stroke-width="2"/><line x1="328.1" y1="63.4" x2="335.6" y2="58.7" stroke="#c2c6ee" stroke-width="2"/>
<line x1="334.9" y1="7.9" x2="326.3" y2="11.1" stroke="#a4a49c" stroke-width="2"/><line x1="326.3" y1="11.1" x2="317.7" y2="14.3" stroke="#c2c6ee" stroke-width="2"/>
<line x1="334.9" y1="58.1" x2="335.2" y2="58.4" stroke="#a4a49c" stroke-width="2"/><line x1="335.2" y1="58.4" x2="335.6" y2="58.7" stroke="#c2c6ee" stroke-width="2"/>
<line x1="334.9" y1="58.1" x2="342.0" y2="53.8" stroke="#a4a49c" stroke-width="2"/><line x1="342.0" y1="53.8" x2="349.2" y2="49.4" stroke="#c2c6ee" stroke-width="2"/>
<line x1="345.6" y1="43" x2="340.6" y2="50.9" stroke="#a4a49c" stroke-width="2"/><line x1="340.6" y1="50.9" x2="335.6" y2="58.7" stroke="#c2c6ee" stroke-width="2"/>
<line x1="345.6" y1="43" x2="347.4" y2="44.5" stroke="#a4a49c" stroke-width="2"/><line x1="347.4" y1="44.5" x2="349.2" y2="45.9" stroke="#c2c6ee" stroke-width="2"/>
<line x1="345.6" y1="43" x2="347.4" y2="46.2" stroke="#a4a49c" stroke-width="2"/><line x1="347.4" y1="46.2" x2="349.2" y2="49.4" stroke="#c2c6ee" stroke-width="2"/>
<line x1="359.6" y1="33" x2="354.4" y2="39.5" stroke="#a4a49c" stroke-width="2"/><line x1="354.4" y1="39.5" x2="349.2" y2="45.9" stroke="#c2c6ee" stroke-width="2"/>
<circle cx="317.7" cy="14.3" r="2.5" fill="url(#gN)" stroke="#7880cc" stroke-width="0.45"/>
<circle cx="282.4" cy="42" r="2.5" fill="url(#gN)" stroke="#7880cc" stroke-width="0.45"/>
<circle cx="335.6" cy="58.7" r="2.5" fill="url(#gN)" stroke="#7880cc" stroke-width="0.45"/>
<circle cx="349.2" cy="45.9" r="2.5" fill="url(#gN)" stroke="#7880cc" stroke-width="0.45"/>
<circle cx="349.2" cy="49.4" r="2.5" fill="url(#gN)" stroke="#7880cc" stroke-width="0.45"/>
<g font-family="Liberation Sans, sans-serif" fill="#111"><text x="271.8" y="7.2" font-size="7.6" stroke="#111" stroke-width="0.2">W</text><text x="253.5" y="0.9" font-size="7.6">N3</text></g>
<line x1="420.1" y1="104.8" x2="420.1" y2="92.3" stroke="#1414e6" stroke-width="1.3"/>
<polygon points="420.1,87.8 418.20000000000005,92.8 422.0,92.8" fill="#1414e6"/>
<line x1="420.1" y1="104.8" x2="432.6" y2="104.8" stroke="#5ad828" stroke-width="1.3"/>
<polygon points="437.1,104.8 432.1,102.89999999999999 432.1,106.7" fill="#5ad828"/>
<circle cx="418.6" cy="105.8" r="1.7" fill="#9a1010"/>
<g font-family="Liberation Sans, sans-serif" font-size="6.2" font-weight="bold" fill="#222"><text x="420.5" y="86.0" text-anchor="middle">c</text><text x="439.20000000000005" y="107.1">b</text><text x="416.1" y="110.0" font-size="4.6">a</text></g>
<clipPath id="clipc"><rect x="30.3" y="138.4" width="170.8" height="120"/></clipPath>
<g stroke="#5c5c5c" stroke-width="1.1">
<line x1="48.7" y1="138.3" x2="48.7" y2="252"/>
<line x1="68.3" y1="138.3" x2="68.3" y2="252"/>
<line x1="95.2" y1="138.3" x2="95.2" y2="252"/>
<line x1="127.4" y1="138.3" x2="127.4" y2="252"/>
<line x1="154.6" y1="138.3" x2="154.6" y2="252"/>
<line x1="181.9" y1="138.3" x2="181.9" y2="252"/>
</g>
<g clip-path="url(#clipc)" fill="none" stroke="#dc3a44" stroke-width="0.85">
<path d="M30.3,143.0L34.9,141.5L39.5,140.7L44.1,141.2L48.7,142.6L53.6,141.4L58.5,140.8L63.4,141.3L68.3,142.5L72.8,141.8L77.3,141.4L81.8,141.4L86.2,141.7L90.7,142.3L95.2,143.1L99.2,142.5L103.2,141.9L107.3,141.6L111.3,141.4L115.3,141.5L119.4,141.9L123.4,142.4L127.4,143.0L131.9,142.0L136.5,141.2L141.0,140.8L145.5,140.8L150.1,141.3L154.6,142.2L159.2,141.6L163.7,141.2L168.2,141.3L172.8,141.7L177.3,142.3L181.9,143.1L186.7,142.2L191.5,141.9L196.3,142.2L201.1,143.0"/>
<path d="M30.3,142.3L34.9,143.5L39.5,144.0L44.1,143.5L48.7,142.4L53.6,143.5L58.5,144.0L63.4,143.6L68.3,142.6L72.8,143.4L77.3,144.0L81.8,144.2L86.2,143.9L90.7,143.2L95.2,142.3L99.2,142.8L103.2,143.3L107.3,143.6L111.3,143.7L115.3,143.7L119.4,143.4L123.4,143.1L127.4,142.6L131.9,143.5L136.5,144.2L141.0,144.3L145.5,143.9L150.1,143.1L154.6,142.1L159.2,143.2L163.7,144.1L168.2,144.6L172.8,144.5L177.3,143.9L181.9,142.9L186.7,143.7L191.5,143.9L196.3,143.5L201.1,142.6"/>
<path d="M30.3,142.7L34.9,141.2L39.5,140.7L44.1,141.4L48.7,142.9L53.6,142.0L58.5,141.7L63.4,142.1L68.3,143.1L72.8,142.5L77.3,141.9L81.8,141.6L86.2,141.5L90.7,141.7L95.2,142.2L99.2,141.8L103.2,141.4L107.3,141.2L111.3,141.2L115.3,141.4L119.4,141.7L123.4,142.2L127.4,142.7L131.9,142.0L136.5,141.5L141.0,141.4L145.5,141.7L150.1,142.3L154.6,143.0L159.2,142.2L163.7,141.5L168.2,141.2L172.8,141.2L177.3,141.7L181.9,142.4L186.7,141.1L191.5,140.6L196.3,141.4L201.1,142.9"/>
<path d="M30.3,142.4L34.9,143.2L39.5,143.7L44.1,143.5L48.7,142.8L53.6,144.3L58.5,145.0L63.4,144.5L68.3,143.1L72.8,144.0L77.3,144.6L81.8,144.7L86.2,144.5L90.7,143.8L95.2,143.0L99.2,143.5L103.2,143.8L107.3,144.0L111.3,143.9L115.3,143.7L119.4,143.2L123.4,142.7L127.4,142.1L131.9,142.8L136.5,143.5L141.0,143.8L145.5,143.7L150.1,143.3L154.6,142.7L159.2,143.2L163.7,143.6L168.2,143.7L172.8,143.5L177.3,143.0L181.9,142.4L186.7,143.4L191.5,144.0L196.3,143.8L201.1,143.1"/>
<path d="M30.3,143.1L34.9,141.5L39.5,140.6L44.1,140.9L48.7,142.3L53.6,141.6L58.5,141.4L63.4,141.9L68.3,142.7L72.8,141.7L77.3,141.1L81.8,140.9L86.2,141.2L90.7,142.0L95.2,143.0L99.2,142.5L103.2,142.0L107.3,141.7L111.3,141.4L115.3,141.4L119.4,141.6L123.4,141.9L127.4,142.4L131.9,141.9L136.5,141.5L141.0,141.5L145.5,141.8L150.1,142.3L154.6,142.9L159.2,142.4L163.7,142.1L168.2,142.0L172.8,142.1L177.3,142.5L181.9,143.1L186.7,142.0L191.5,141.4L196.3,141.6L201.1,142.5"/>
<path d="M30.3,142.4L34.9,143.4L39.5,143.9L44.1,143.6L48.7,142.6L53.6,143.7L58.5,144.0L63.4,143.4L68.3,142.3L72.8,143.0L77.3,143.6L81.8,144.0L86.2,144.0L90.7,143.6L95.2,142.9L99.2,143.6L103.2,144.2L107.3,144.6L111.3,144.7L115.3,144.6L119.4,144.2L123.4,143.5L127.4,142.8L131.9,143.4L136.5,143.8L141.0,143.9L145.5,143.8L150.1,143.4L154.6,142.9L159.2,143.4L163.7,143.6L168.2,143.6L172.8,143.3L177.3,142.7L181.9,142.1L186.7,143.2L191.5,143.6L196.3,143.2L201.1,142.2"/>
<path d="M30.3,140.7L34.9,140.7L39.5,140.7L44.1,140.7L48.7,140.7L53.6,140.7L58.5,140.7L63.4,140.7L68.3,140.7L72.8,140.7L77.3,140.7L81.8,140.7L86.2,140.7L90.7,140.7L95.2,140.7L99.2,140.7L103.2,140.7L107.3,140.7L111.3,140.7L115.3,140.7L119.4,140.7L123.4,140.7L127.4,140.7L131.9,140.7L136.5,140.7L141.0,140.7L145.5,140.7L150.1,140.7L154.6,140.7L159.2,140.7L163.7,140.7L168.2,140.7L172.8,140.7L177.3,140.7L181.9,140.7L186.7,140.7L191.5,140.7L196.3,140.7L201.1,140.7"/>
<path d="M30.3,144.4L34.9,144.4L39.5,144.4L44.1,144.4L48.7,144.4L53.6,144.4L58.5,144.4L63.4,144.4L68.3,144.4L72.8,144.4L77.3,144.4L81.8,144.4L86.2,144.4L90.7,144.4L95.2,144.4L99.2,144.4L103.2,144.4L107.3,144.4L111.3,144.4L115.3,144.4L119.4,144.4L123.4,144.4L127.4,144.4L131.9,144.4L136.5,144.4L141.0,144.4L145.5,144.4L150.1,144.4L154.6,144.4L159.2,144.4L163.7,144.4L168.2,144.4L172.8,144.4L177.3,144.4L181.9,144.4L186.7,144.4L191.5,144.4L196.3,144.4L201.1,144.4"/>
<path d="M30.3,169.4L34.9,169.3L39.5,168.5L44.1,167.6L48.7,166.9L53.6,166.9L58.5,167.0L63.4,167.2L68.3,167.4L72.8,167.6L77.3,167.9L81.8,168.1L86.2,168.3L90.7,168.3L95.2,168.2L99.2,168.2L103.2,168.1L107.3,168.1L111.3,168.0L115.3,167.9L119.4,167.8L123.4,167.7L127.4,167.7L131.9,167.5L136.5,167.4L141.0,167.3L145.5,167.3L150.1,167.4L154.6,167.6L159.2,167.3L163.7,167.1L168.2,167.0L172.8,166.9L177.3,167.0L181.9,167.2L186.7,166.9L191.5,166.6L196.3,166.5L201.1,166.6"/>
<path d="M30.3,170.3L34.9,169.8L39.5,169.2L44.1,168.9L48.7,168.9L53.6,168.9L58.5,169.2L63.4,169.5L68.3,169.7L72.8,169.7L77.3,169.2L81.8,168.4L86.2,167.5L90.7,166.7L95.2,166.3L99.2,166.4L103.2,166.8L107.3,167.4L111.3,168.1L115.3,168.7L119.4,169.3L123.4,169.7L127.4,169.8L131.9,170.0L136.5,170.1L141.0,170.0L145.5,169.9L150.1,169.6L154.6,169.4L159.2,169.3L163.7,169.2L168.2,169.1L172.8,169.0L177.3,168.9L181.9,168.9L186.7,169.3L191.5,169.8L196.3,170.2L201.1,170.2"/>
<path d="M30.3,170.2L34.9,170.3L39.5,170.3L44.1,170.1L48.7,169.9L53.6,169.7L58.5,169.1L63.4,168.5L68.3,168.1L72.8,167.9L77.3,167.7L81.8,167.5L86.2,167.5L90.7,167.6L95.2,167.8L99.2,168.0L103.2,168.3L107.3,168.5L111.3,168.8L115.3,169.0L119.4,169.2L123.4,169.2L127.4,169.1L131.9,169.2L136.5,169.1L141.0,168.8L145.5,168.5L150.1,168.1L154.6,167.8L159.2,167.8L163.7,168.0L168.2,168.3L172.8,168.6L177.3,168.8L181.9,169.0L186.7,168.8L191.5,168.9L196.3,169.4L201.1,169.9"/>
<path d="M30.3,166.7L34.9,166.6L39.5,166.8L44.1,167.2L48.7,167.5L53.6,167.8L58.5,168.6L63.4,169.6L68.3,170.1L72.8,169.8L77.3,169.1L81.8,168.3L86.2,167.6L90.7,167.1L95.2,167.1L99.2,167.0L103.2,167.0L107.3,167.0L111.3,167.1L115.3,167.2L119.4,167.3L123.4,167.5L127.4,167.6L131.9,167.9L136.5,168.4L141.0,168.9L145.5,169.5L150.1,169.8L154.6,169.8L159.2,169.6L163.7,169.2L168.2,168.9L172.8,168.6L177.3,168.4L181.9,168.5L186.7,168.9L191.5,169.6L196.3,170.1L201.1,170.2"/>
<path d="M30.3,169.8L34.9,169.8L39.5,169.5L44.1,169.1L48.7,168.8L53.6,168.6L58.5,168.3L63.4,168.3L68.3,168.4L72.8,168.5L77.3,168.8L81.8,169.0L86.2,169.2L90.7,169.3L95.2,169.2L99.2,169.1L103.2,168.8L107.3,168.5L111.3,168.3L115.3,168.0L119.4,167.9L123.4,167.9L127.4,167.9L131.9,168.0L136.5,168.0L141.0,168.0L145.5,168.0L150.1,168.0L154.6,167.9L159.2,168.0L163.7,168.3L168.2,168.6L172.8,169.0L177.3,169.3L181.9,169.4L186.7,169.1L191.5,168.5L196.3,168.0L201.1,167.8"/>
<path d="M30.3,168.3L34.9,168.2L39.5,168.5L44.1,169.0L48.7,169.3L53.6,168.7L58.5,167.6L63.4,166.6L68.3,166.4L72.8,166.6L77.3,167.2L81.8,168.1L86.2,169.0L90.7,169.7L95.2,170.0L99.2,169.8L103.2,169.6L107.3,169.3L111.3,169.1L115.3,169.0L119.4,168.9L123.4,168.9L127.4,169.1L131.9,168.9L136.5,168.6L141.0,168.3L145.5,168.2L150.1,168.1L154.6,168.2L159.2,168.4L163.7,168.9L168.2,169.4L172.8,169.9L177.3,170.2L181.9,170.3L186.7,170.1L191.5,169.9L196.3,169.7L201.1,169.8"/>
<path d="M30.3,173.2L34.9,172.7L39.5,172.1L44.1,171.8L48.7,171.8L53.6,172.1L58.5,172.5L63.4,172.9L68.3,173.0L72.8,173.0L77.3,173.1L81.8,173.3L86.2,173.5L90.7,173.7L95.2,173.7L99.2,173.9L103.2,173.8L107.3,173.6L111.3,173.2L115.3,172.7L119.4,172.2L123.4,171.7L127.4,171.4L131.9,171.4L136.5,171.5L141.0,171.7L145.5,171.8L150.1,172.0L154.6,172.0L159.2,171.8L163.7,171.6L168.2,171.5L172.8,171.6L177.3,171.7L181.9,171.9L186.7,171.8L191.5,171.9L196.3,172.2L201.1,172.4"/>
<path d="M30.3,171.7L34.9,171.9L39.5,172.2L44.1,172.5L48.7,172.7L53.6,172.5L58.5,172.1L63.4,171.7L68.3,171.4L72.8,171.4L77.3,171.6L81.8,172.2L86.2,172.9L90.7,173.5L95.2,173.9L99.2,174.0L103.2,173.9L107.3,173.6L111.3,173.1L115.3,172.6L119.4,172.1L123.4,171.7L127.4,171.4L131.9,171.5L136.5,171.7L141.0,172.1L145.5,172.5L150.1,172.9L154.6,173.1L159.2,173.2L163.7,173.4L168.2,173.6L172.8,173.8L177.3,173.9L181.9,173.9L186.7,173.7L191.5,173.1L196.3,172.5L201.1,172.3"/>
<path d="M30.3,172.6L34.9,172.4L39.5,172.6L44.1,173.2L48.7,173.8L53.6,174.0L58.5,173.8L63.4,173.2L68.3,172.6L72.8,172.2L77.3,171.8L81.8,171.4L86.2,171.2L90.7,171.2L95.2,171.5L99.2,171.5L103.2,171.8L107.3,172.1L111.3,172.5L115.3,173.0L119.4,173.3L123.4,173.6L127.4,173.7L131.9,174.0L136.5,174.2L141.0,174.4L145.5,174.5L150.1,174.4L154.6,174.2L159.2,174.2L163.7,174.2L168.2,174.2L172.8,174.2L177.3,174.1L181.9,174.0L186.7,174.1L191.5,173.8L196.3,173.2L201.1,172.8"/>
<path d="M30.3,172.0L34.9,171.8L39.5,171.9L44.1,172.2L48.7,172.5L53.6,172.2L58.5,172.3L63.4,172.8L68.3,173.3L72.8,173.6L77.3,173.8L81.8,173.9L86.2,173.9L90.7,173.7L95.2,173.4L99.2,173.5L103.2,173.4L107.3,173.2L111.3,172.9L115.3,172.5L119.4,172.1L123.4,171.7L127.4,171.5L131.9,171.6L136.5,171.7L141.0,171.8L145.5,171.9L150.1,171.9L154.6,171.8L159.2,171.9L163.7,172.0L168.2,172.3L172.8,172.6L177.3,172.8L181.9,172.8L186.7,173.2L191.5,173.4L196.3,173.3L201.1,172.9"/>
<path d="M30.3,183.4L34.9,182.7L39.5,182.0L44.1,181.7L48.7,182.0L53.6,181.2L58.5,180.5L63.4,180.2L68.3,180.5L72.8,180.4L77.3,180.0L81.8,179.3L86.2,178.5L90.7,177.8L95.2,177.5L99.2,177.3L103.2,177.2L107.3,177.2L111.3,177.4L115.3,177.6L119.4,178.0L123.4,178.3L127.4,178.6L131.9,178.6L136.5,179.2L141.0,180.3L145.5,181.7L150.1,182.9L154.6,183.6L159.2,183.7L163.7,183.7L168.2,183.7L172.8,183.6L177.3,183.5L181.9,183.5L186.7,182.6L191.5,181.3L196.3,180.2L201.1,180.0"/>
<path d="M30.3,180.7L34.9,181.5L39.5,182.3L44.1,182.7L48.7,182.5L53.6,181.5L58.5,180.0L63.4,178.9L68.3,178.9L72.8,178.9L77.3,179.4L81.8,180.3L86.2,181.5L90.7,182.5L95.2,183.1L99.2,182.6L103.2,181.8L107.3,180.8L111.3,179.8L115.3,178.9L119.4,178.3L123.4,178.0L127.4,178.2L131.9,178.0L136.5,177.7L141.0,177.4L145.5,177.1L150.1,176.9L154.6,176.9L159.2,176.7L163.7,176.4L168.2,176.1L172.8,175.9L177.3,175.9L181.9,176.0L186.7,176.7L191.5,178.2L196.3,179.6L201.1,180.0"/>
<path d="M30.3,182.3L34.9,182.6L39.5,182.4L44.1,181.9L48.7,181.3L53.6,180.8L58.5,179.5L63.4,178.2L68.3,177.7L72.8,178.2L77.3,179.0L81.8,180.0L86.2,180.7L90.7,181.1L95.2,181.1L99.2,180.6L103.2,180.0L107.3,179.4L111.3,178.7L115.3,178.2L119.4,177.8L123.4,177.7L127.4,177.9L131.9,178.0L136.5,178.3L141.0,178.7L145.5,179.1L150.1,179.4L154.6,179.5L159.2,179.7L163.7,179.9L168.2,180.1L172.8,180.1L177.3,180.1L181.9,180.0L186.7,179.8L191.5,178.4L196.3,176.6L201.1,175.5"/>
<path d="M30.3,178.7L34.9,178.5L39.5,178.8L44.1,179.7L48.7,180.4L53.6,180.2L58.5,180.8L63.4,181.9L68.3,182.7L72.8,182.5L77.3,182.5L81.8,182.6L86.2,182.9L90.7,183.2L95.2,183.6L99.2,183.5L103.2,183.1L107.3,182.6L111.3,182.1L115.3,181.5L119.4,181.0L123.4,180.6L127.4,180.5L131.9,180.4L136.5,180.0L141.0,179.6L145.5,179.2L150.1,178.9L154.6,178.8L159.2,179.0L163.7,179.1L168.2,179.3L172.8,179.4L177.3,179.4L181.9,179.4L186.7,179.0L191.5,177.9L196.3,176.7L201.1,176.1"/>
<path d="M30.3,183.5L34.9,182.3L39.5,180.0L44.1,177.7L48.7,177.0L53.6,178.1L58.5,180.0L63.4,181.5L68.3,181.7L72.8,182.3L77.3,183.0L81.8,183.5L86.2,183.9L90.7,183.9L95.2,183.6L99.2,183.4L103.2,182.9L107.3,182.3L111.3,181.5L115.3,180.8L119.4,180.3L123.4,179.9L127.4,179.8L131.9,179.7L136.5,179.3L141.0,178.7L145.5,178.2L150.1,177.8L154.6,177.7L159.2,177.5L163.7,177.7L168.2,178.2L172.8,178.9L177.3,179.6L181.9,180.1L186.7,180.3L191.5,180.6L196.3,180.7L201.1,180.7"/>
<path d="M30.3,177.1L34.9,178.3L39.5,180.7L44.1,182.9L48.7,183.7L53.6,183.6L58.5,183.5L63.4,183.5L68.3,183.6L72.8,182.9L77.3,181.8L81.8,180.5L86.2,179.3L90.7,178.7L95.2,178.7L99.2,178.9L103.2,179.3L107.3,179.9L111.3,180.5L115.3,181.1L119.4,181.6L123.4,181.9L127.4,181.9L131.9,182.3L136.5,182.7L141.0,183.1L145.5,183.4L150.1,183.5L154.6,183.3L159.2,183.2L163.7,183.0L168.2,182.9L172.8,182.8L177.3,182.7L181.9,182.7L186.7,183.1L191.5,182.6L196.3,181.6L201.1,180.6"/>
<path d="M30.3,180.5L34.9,180.8L39.5,181.1L44.1,181.2L48.7,181.1L53.6,180.8L58.5,180.5L63.4,180.4L68.3,180.5L72.8,180.8L77.3,181.3L81.8,182.1L86.2,182.8L90.7,183.3L95.2,183.4L99.2,183.4L103.2,183.1L107.3,182.5L111.3,181.8L115.3,180.9L119.4,180.1L123.4,179.4L127.4,179.1L131.9,178.7L136.5,178.3L141.0,178.1L145.5,178.0L150.1,178.2L154.6,178.5L159.2,178.2L163.7,177.8L168.2,177.5L172.8,177.3L177.3,177.3L181.9,177.4L186.7,176.6L191.5,175.7L196.3,175.3L201.1,175.6"/>
<path d="M30.3,176.8L34.9,176.7L39.5,176.4L44.1,176.1L48.7,176.0L53.6,176.6L58.5,178.9L63.4,181.4L68.3,182.7L72.8,183.2L77.3,183.6L81.8,184.0L86.2,184.1L90.7,184.0L95.2,183.7L99.2,183.5L103.2,183.2L107.3,182.9L111.3,182.6L115.3,182.3L119.4,182.1L123.4,182.1L127.4,182.1L131.9,182.4L136.5,182.4L141.0,182.0L145.5,181.5L150.1,180.8L154.6,180.3L159.2,180.4L163.7,180.1L168.2,179.6L172.8,178.9L177.3,178.3L181.9,177.9L186.7,178.0L191.5,178.6L196.3,179.5L201.1,180.1"/>
<path d="M30.3,178.0L34.9,177.9L39.5,178.6L44.1,179.6L48.7,180.4L53.6,181.0L58.5,181.5L63.4,181.7L68.3,181.3L72.8,180.6L77.3,179.4L81.8,178.2L86.2,177.1L90.7,176.6L95.2,176.7L99.2,177.1L103.2,177.8L107.3,178.7L111.3,179.6L115.3,180.5L119.4,181.2L123.4,181.5L127.4,181.5L131.9,181.8L136.5,182.3L141.0,182.9L145.5,183.4L150.1,183.6L154.6,183.6L159.2,183.4L163.7,183.0L168.2,182.5L172.8,182.1L177.3,181.8L181.9,181.7L186.7,182.2L191.5,183.0L196.3,183.6L201.1,183.7"/>
<path d="M30.3,180.6L34.9,180.7L39.5,181.4L44.1,182.4L48.7,182.9L53.6,182.1L58.5,181.0L63.4,180.4L68.3,180.5L72.8,180.9L77.3,181.6L81.8,182.4L86.2,183.2L90.7,183.6L95.2,183.6L99.2,183.6L103.2,183.5L107.3,183.3L111.3,183.0L115.3,182.7L119.4,182.3L123.4,182.1L127.4,181.9L131.9,181.3L136.5,180.1L141.0,178.6L145.5,177.2L150.1,176.2L154.6,176.0L159.2,176.1L163.7,176.9L168.2,178.2L172.8,179.6L177.3,180.8L181.9,181.4L186.7,181.3L191.5,181.3L196.3,181.4L201.1,181.5"/>
<path d="M30.3,182.3L34.9,181.8L39.5,181.6L44.1,181.8L48.7,182.3L53.6,181.3L58.5,179.5L63.4,177.8L68.3,177.3L72.8,177.3L77.3,177.3L81.8,177.4L86.2,177.6L90.7,177.7L95.2,177.8L99.2,177.6L103.2,177.3L107.3,177.0L111.3,176.6L115.3,176.4L119.4,176.2L123.4,176.1L127.4,176.2L131.9,176.3L136.5,176.6L141.0,176.9L145.5,177.1L150.1,177.2L154.6,177.2L159.2,177.5L163.7,178.2L168.2,179.0L172.8,179.7L177.3,180.2L181.9,180.2L186.7,180.5L191.5,181.3L196.3,182.2L201.1,182.7"/>
<path d="M30.3,179.7L34.9,179.0L39.5,178.2L44.1,177.7L48.7,177.8L53.6,178.0L58.5,177.5L63.4,176.6L68.3,175.8L72.8,175.9L77.3,176.1L81.8,176.3L86.2,176.5L90.7,176.6L95.2,176.6L99.2,176.7L103.2,177.1L107.3,177.8L111.3,178.5L115.3,179.3L119.4,179.9L123.4,180.4L127.4,180.5L131.9,180.2L136.5,180.1L141.0,180.0L145.5,180.1L150.1,180.4L154.6,180.6L159.2,180.0L163.7,178.9L168.2,177.6L172.8,176.5L177.3,175.9L181.9,175.9L186.7,177.0L191.5,178.8L196.3,180.2L201.1,180.5"/>
<path d="M30.3,178.5L34.9,178.8L39.5,178.8L44.1,178.7L48.7,178.4L53.6,178.9L58.5,180.2L63.4,181.8L68.3,182.5L72.8,182.1L77.3,180.9L81.8,179.4L86.2,178.0L90.7,177.0L95.2,176.7L99.2,176.8L103.2,177.0L107.3,177.4L111.3,177.9L115.3,178.3L119.4,178.7L123.4,179.0L127.4,179.1L131.9,179.0L136.5,178.5L141.0,177.7L145.5,176.7L150.1,176.0L154.6,175.6L159.2,176.0L163.7,177.2L168.2,178.9L172.8,180.6L177.3,181.8L181.9,182.2L186.7,182.0L191.5,181.0L196.3,179.9L201.1,179.3"/>
<path d="M30.3,176.2L34.9,176.6L39.5,177.9L44.1,179.2L48.7,179.9L53.6,179.3L58.5,179.0L63.4,179.2L68.3,179.8L72.8,180.2L77.3,180.8L81.8,181.3L86.2,181.7L90.7,181.8L95.2,181.6L99.2,181.3L103.2,181.1L107.3,180.9L111.3,180.9L115.3,180.9L119.4,181.1L123.4,181.4L127.4,181.7L131.9,181.0L136.5,179.7L141.0,178.2L145.5,176.7L150.1,175.8L154.6,175.7L159.2,176.0L163.7,176.9L168.2,178.3L172.8,179.7L177.3,180.7L181.9,181.1L186.7,180.2L191.5,178.4L196.3,176.8L201.1,176.4"/>
<path d="M30.3,186.3L34.9,186.5L39.5,186.7L44.1,186.9L48.7,186.8L53.6,186.6L58.5,186.4L63.4,186.3L68.3,186.5L72.8,186.3L77.3,186.3L81.8,186.5L86.2,186.7L90.7,187.0L95.2,187.2L99.2,187.1L103.2,187.1L107.3,187.1L111.3,187.1L115.3,187.2L119.4,187.4L123.4,187.5L127.4,187.6L131.9,187.4L136.5,187.0L141.0,186.7L145.5,186.4L150.1,186.3L154.6,186.4L159.2,186.5L163.7,186.7L168.2,186.8L172.8,186.9L177.3,186.9L181.9,186.8L186.7,186.8L191.5,186.6L196.3,186.2L201.1,185.9"/>
<path d="M30.3,187.2L34.9,187.2L39.5,187.1L44.1,187.0L48.7,187.0L53.6,186.9L58.5,187.0L63.4,187.3L68.3,187.5L72.8,187.3L77.3,187.2L81.8,187.2L86.2,187.2L90.7,187.3L95.2,187.4L99.2,187.4L103.2,187.5L107.3,187.6L111.3,187.6L115.3,187.6L119.4,187.7L123.4,187.7L127.4,187.6L131.9,187.5L136.5,187.2L141.0,186.7L145.5,186.3L150.1,186.0L154.6,185.9L159.2,186.1L163.7,186.4L168.2,186.7L172.8,187.0L177.3,187.1L181.9,187.0L186.7,187.0L191.5,186.9L196.3,186.7L201.1,186.5"/>
<path d="M30.3,187.3L34.9,187.5L39.5,187.5L44.1,187.4L48.7,187.1L53.6,187.3L58.5,187.4L63.4,187.3L68.3,187.1L72.8,186.9L77.3,186.7L81.8,186.5L86.2,186.5L90.7,186.5L95.2,186.6L99.2,186.6L103.2,186.6L107.3,186.6L111.3,186.7L115.3,186.8L119.4,186.9L123.4,187.0L127.4,187.0L131.9,187.0L136.5,186.9L141.0,186.9L145.5,186.9L150.1,187.0L154.6,187.1L159.2,186.8L163.7,186.5L168.2,186.2L172.8,186.0L177.3,186.0L181.9,186.1L186.7,186.5L191.5,187.1L196.3,187.6L201.1,187.7"/>
<path d="M30.3,193.1L34.9,193.9L39.5,195.5L44.1,196.9L48.7,197.4L53.6,196.7L58.5,195.9L63.4,195.4L68.3,195.6L72.8,195.3L77.3,194.9L81.8,194.6L86.2,194.4L90.7,194.4L95.2,194.6L99.2,194.5L103.2,194.4L107.3,194.3L111.3,194.1L115.3,194.0L119.4,193.9L123.4,193.8L127.4,193.8L131.9,193.9L136.5,194.4L141.0,195.2L145.5,196.2L150.1,196.9L154.6,197.4L159.2,197.0L163.7,196.5L168.2,196.1L172.8,195.8L177.3,195.7L181.9,195.9L186.7,196.4L191.5,197.5L196.3,198.4L201.1,198.7"/>
<path d="M30.3,192.7L34.9,193.0L39.5,194.2L44.1,195.4L48.7,196.1L53.6,196.0L58.5,196.5L63.4,197.3L68.3,197.9L72.8,197.7L77.3,197.1L81.8,196.5L86.2,196.0L90.7,195.6L95.2,195.6L99.2,195.3L103.2,195.1L107.3,194.9L111.3,194.7L115.3,194.7L119.4,194.8L123.4,194.9L127.4,195.1L131.9,195.1L136.5,195.0L141.0,194.8L145.5,194.7L150.1,194.5L154.6,194.5L159.2,194.3L163.7,194.2L168.2,194.2L172.8,194.3L177.3,194.4L181.9,194.6L186.7,195.6L191.5,197.1L196.3,198.4L201.1,198.7"/>
<path d="M30.3,193.2L34.9,193.2L39.5,194.1L44.1,195.3L48.7,196.2L53.6,196.1L58.5,195.3L63.4,194.1L68.3,193.3L72.8,193.8L77.3,194.7L81.8,195.6L86.2,196.4L90.7,196.9L95.2,196.9L99.2,196.8L103.2,196.6L107.3,196.2L111.3,195.9L115.3,195.5L119.4,195.2L123.4,195.0L127.4,194.9L131.9,194.6L136.5,194.1L141.0,193.7L145.5,193.4L150.1,193.3L154.6,193.5L159.2,193.5L163.7,193.5L168.2,193.7L172.8,194.0L177.3,194.2L181.9,194.4L186.7,194.6L191.5,194.9L196.3,195.1L201.1,195.0"/>
<path d="M30.3,198.3L34.9,198.3L39.5,197.7L44.1,196.7L48.7,196.1L53.6,196.2L58.5,196.2L63.4,196.0L68.3,195.9L72.8,195.6L77.3,195.4L81.8,195.4L86.2,195.4L90.7,195.7L95.2,195.9L99.2,196.1L103.2,196.1L107.3,196.1L111.3,195.9L115.3,195.7L119.4,195.4L123.4,195.2L127.4,195.0L131.9,195.3L136.5,195.8L141.0,196.4L145.5,196.9L150.1,197.2L154.6,197.2L159.2,196.7L163.7,195.8L168.2,194.7L172.8,193.8L177.3,193.3L181.9,193.3L186.7,194.0L191.5,195.4L196.3,196.7L201.1,197.1"/>
<path d="M30.3,193.5L34.9,194.1L39.5,195.8L44.1,197.7L48.7,198.7L53.6,197.5L58.5,195.4L63.4,193.7L68.3,193.3L72.8,193.2L77.3,193.8L81.8,194.7L86.2,195.8L90.7,196.8L95.2,197.4L99.2,197.4L103.2,197.4L107.3,197.5L111.3,197.5L115.3,197.6L119.4,197.7L123.4,197.7L127.4,197.8L131.9,197.8L136.5,197.3L141.0,196.4L145.5,195.5L150.1,194.7L154.6,194.2L159.2,193.9L163.7,193.4L168.2,193.0L172.8,192.6L177.3,192.5L181.9,192.6L186.7,192.7L191.5,192.8L196.3,192.9L201.1,192.8"/>
<path d="M30.3,209.8L34.9,208.9L39.5,206.8L44.1,204.6L48.7,203.7L53.6,203.1L58.5,201.8L63.4,200.4L68.3,199.8L72.8,200.6L77.3,202.7L81.8,205.6L86.2,208.5L90.7,210.6L95.2,211.4L99.2,211.0L103.2,209.9L107.3,208.2L111.3,206.2L115.3,204.3L119.4,202.6L123.4,201.5L127.4,201.1L131.9,201.5L136.5,202.4L141.0,203.7L145.5,205.0L150.1,205.9L154.6,206.2L159.2,205.9L163.7,205.0L168.2,203.7L172.8,202.4L177.3,201.5L181.9,201.1L186.7,201.7L191.5,203.0L196.3,204.4L201.1,205.0"/>
<path d="M30.3,209.8L34.9,209.6L39.5,209.0L44.1,208.4L48.7,208.2L53.6,208.1L58.5,207.8L63.4,207.6L68.3,207.5L72.8,207.8L77.3,208.5L81.8,209.4L86.2,210.4L90.7,211.1L95.2,211.4L99.2,211.4L103.2,211.5L107.3,211.8L111.3,212.0L115.3,212.2L119.4,212.5L123.4,212.6L127.4,212.6L131.9,212.1L136.5,210.6L141.0,208.5L145.5,206.4L150.1,204.9L154.6,204.3L159.2,204.8L163.7,206.1L168.2,207.8L172.8,209.6L177.3,210.9L181.9,211.4L186.7,211.1L191.5,210.4L196.3,209.7L201.1,209.4"/>
<path d="M30.3,209.8L34.9,210.8L39.5,213.2L44.1,215.5L48.7,216.5L53.6,217.0L58.5,218.4L63.4,219.8L68.3,220.3L72.8,219.8L77.3,218.2L81.8,216.2L86.2,214.1L90.7,212.6L95.2,212.0L99.2,212.2L103.2,212.7L107.3,213.4L111.3,214.2L115.3,215.1L119.4,215.8L123.4,216.3L127.4,216.5L131.9,216.4L136.5,216.2L141.0,215.8L145.5,215.5L150.1,215.3L154.6,215.2L159.2,215.4L163.7,215.8L168.2,216.5L172.8,217.1L177.3,217.6L181.9,217.8L186.7,217.6L191.5,217.1L196.3,216.7L201.1,216.5"/>
<path d="M30.3,210.1L34.9,210.5L39.5,211.4L44.1,212.3L48.7,212.6L53.6,212.9L58.5,213.6L63.4,214.3L68.3,214.6L72.8,214.4L77.3,213.8L81.8,213.1L86.2,212.4L90.7,211.8L95.2,211.6L99.2,211.9L103.2,212.9L107.3,214.3L111.3,216.0L115.3,217.6L119.4,219.0L123.4,220.0L127.4,220.3L131.9,220.1L136.5,219.4L141.0,218.4L145.5,217.4L150.1,216.7L154.6,216.5L159.2,216.7L163.7,217.3L168.2,218.1L172.8,218.9L177.3,219.5L181.9,219.7L186.7,219.6L191.5,219.4L196.3,219.1L201.1,219.0"/>
<path d="M30.3,226.6L34.9,225.8L39.5,225.2L44.1,225.2L48.7,225.8L53.6,225.1L58.5,225.4L63.4,226.6L68.3,227.8L72.8,227.6L77.3,227.5L81.8,227.5L86.2,227.5L90.7,227.7L95.2,227.9L99.2,227.6L103.2,227.2L107.3,226.9L111.3,226.6L115.3,226.5L119.4,226.5L123.4,226.6L127.4,226.8L131.9,226.6L136.5,226.2L141.0,225.8L145.5,225.5L150.1,225.3L154.6,225.3L159.2,225.9L163.7,226.3L168.2,226.3L172.8,225.9L177.3,225.3L181.9,224.6L186.7,225.5L191.5,225.5L196.3,224.8L201.1,223.7"/>
<path d="M30.3,224.6L34.9,225.5L39.5,226.6L44.1,227.2L48.7,227.1L53.6,227.1L58.5,226.4L63.4,225.3L68.3,224.5L72.8,224.8L77.3,225.2L81.8,225.7L86.2,226.0L90.7,226.1L95.2,225.9L99.2,225.8L103.2,225.8L107.3,226.0L111.3,226.3L115.3,226.7L119.4,227.2L123.4,227.6L127.4,228.0L131.9,228.3L136.5,228.2L141.0,227.7L145.5,227.0L150.1,226.2L154.6,225.5L159.2,225.6L163.7,225.8L168.2,225.9L172.8,226.0L177.3,226.1L181.9,226.0L186.7,226.0L191.5,226.5L196.3,227.2L201.1,227.7"/>
<path d="M30.3,223.8L34.9,224.9L39.5,226.5L44.1,227.5L48.7,227.5L53.6,227.6L58.5,227.6L63.4,227.7L68.3,227.6L72.8,227.4L77.3,227.1L81.8,226.9L86.2,226.9L90.7,226.9L95.2,227.1L99.2,227.3L103.2,227.4L107.3,227.5L111.3,227.5L115.3,227.4L119.4,227.3L123.4,227.2L127.4,227.0L131.9,227.5L136.5,228.0L141.0,228.2L145.5,228.1L150.1,227.8L154.6,227.3L159.2,227.9L163.7,228.4L168.2,228.7L172.8,228.6L177.3,228.3L181.9,227.7L186.7,228.1L191.5,228.1L196.3,227.7L201.1,227.1"/>
<path d="M30.3,241.3L34.9,241.0L39.5,239.4L44.1,237.5L48.7,236.3L53.6,234.8L58.5,232.3L63.4,230.4L68.3,230.1L72.8,231.2L77.3,232.3L81.8,233.2L86.2,233.6L90.7,233.3L95.2,232.5L99.2,233.3L103.2,234.5L107.3,236.1L111.3,237.8L115.3,239.3L119.4,240.3L123.4,240.9L127.4,240.7L131.9,240.5L136.5,240.7L141.0,241.2L145.5,242.0L150.1,242.8L154.6,243.4L159.2,243.2L163.7,243.0L168.2,242.9L172.8,242.8L177.3,242.8L181.9,242.9L186.7,242.0L191.5,239.9L196.3,237.8L201.1,237.0"/>
<path d="M30.3,229.6L34.9,230.6L39.5,234.7L44.1,239.5L48.7,242.2L53.6,241.4L58.5,240.6L63.4,240.4L68.3,240.9L72.8,241.3L77.3,240.9L81.8,239.6L86.2,237.9L90.7,236.2L95.2,235.0L99.2,234.8L103.2,234.6L107.3,234.5L111.3,234.5L115.3,234.5L119.4,234.6L123.4,234.8L127.4,235.0L131.9,235.0L136.5,234.1L141.0,232.5L145.5,230.8L150.1,229.2L154.6,228.3L159.2,228.6L163.7,228.9L168.2,229.0L172.8,228.9L177.3,228.7L181.9,228.4L186.7,230.4L191.5,233.1L196.3,234.8L201.1,234.6"/>
<path d="M30.3,243.9L34.9,240.8L39.5,235.5L44.1,231.2L48.7,230.3L53.6,229.8L58.5,230.1L63.4,231.3L68.3,232.5L72.8,231.5L77.3,230.7L81.8,230.2L86.2,230.4L90.7,231.0L95.2,232.0L99.2,232.7L103.2,233.8L107.3,235.3L111.3,236.8L115.3,238.1L119.4,239.1L123.4,239.5L127.4,239.4L131.9,238.8L136.5,238.1L141.0,237.4L145.5,237.0L150.1,237.0L154.6,237.3L159.2,238.4L163.7,239.8L168.2,241.0L172.8,241.7L177.3,241.8L181.9,241.2L186.7,240.1L191.5,237.6L196.3,235.2L201.1,234.4"/>
<path d="M30.3,242.2L34.9,242.5L39.5,240.6L44.1,237.6L48.7,235.4L53.6,236.1L58.5,236.3L63.4,236.0L68.3,235.3L72.8,234.7L77.3,234.7L81.8,235.3L86.2,236.3L90.7,237.4L95.2,238.4L99.2,237.6L103.2,236.9L107.3,236.4L111.3,236.3L115.3,236.4L119.4,236.9L123.4,237.6L127.4,238.4L131.9,238.3L136.5,237.5L141.0,236.1L145.5,234.6L150.1,233.3L154.6,232.6L159.2,232.0L163.7,232.1L168.2,232.8L172.8,233.9L177.3,235.2L181.9,236.3L186.7,235.3L191.5,235.2L196.3,236.1L201.1,237.5"/>
<path d="M30.3,240.5L34.9,241.3L39.5,241.4L44.1,240.7L48.7,239.6L53.6,237.4L58.5,234.6L63.4,232.7L68.3,232.9L72.8,233.7L77.3,235.1L81.8,236.8L86.2,238.2L90.7,239.1L95.2,239.1L99.2,239.4L103.2,238.9L107.3,237.6L111.3,235.7L115.3,233.6L119.4,231.5L123.4,229.8L127.4,228.7L131.9,230.4L136.5,232.9L141.0,235.5L145.5,237.6L150.1,238.6L154.6,238.2L159.2,237.9L163.7,236.9L168.2,235.5L172.8,234.0L177.3,232.8L181.9,232.3L186.7,231.9L191.5,231.9L196.3,232.2L201.1,232.7"/>
<path d="M30.3,239.7L34.9,238.8L39.5,235.8L44.1,232.4L48.7,230.5L53.6,232.2L58.5,235.6L63.4,238.7L68.3,239.7L72.8,238.3L77.3,236.0L81.8,233.5L86.2,231.4L90.7,230.3L95.2,230.4L99.2,230.8L103.2,232.1L107.3,234.1L111.3,236.6L115.3,239.1L119.4,241.3L123.4,242.8L127.4,243.5L131.9,243.0L136.5,242.1L141.0,241.1L145.5,240.3L150.1,239.8L154.6,239.8L159.2,240.2L163.7,240.6L168.2,241.1L172.8,241.5L177.3,241.6L181.9,241.4L186.7,239.8L191.5,237.7L196.3,236.5L201.1,236.8"/>
<path d="M30.3,236.0L34.9,234.4L39.5,232.6L44.1,231.7L48.7,232.1L53.6,232.6L58.5,232.0L63.4,230.7L68.3,229.4L72.8,229.8L77.3,230.8L81.8,232.1L86.2,233.3L90.7,234.0L95.2,234.2L99.2,233.6L103.2,233.4L107.3,233.4L111.3,233.9L115.3,234.5L119.4,235.4L123.4,236.3L127.4,237.0L131.9,237.8L136.5,238.7L141.0,239.6L145.5,240.1L150.1,240.2L154.6,239.8L159.2,238.4L163.7,235.9L168.2,233.1L172.8,230.7L177.3,229.4L181.9,229.4L186.7,229.6L191.5,230.4L196.3,231.3L201.1,231.8"/>
<path d="M30.3,240.5L34.9,241.1L39.5,240.6L44.1,239.3L48.7,238.0L53.6,238.6L58.5,240.2L63.4,242.0L68.3,242.8L72.8,241.4L77.3,239.2L81.8,236.6L86.2,234.4L90.7,233.2L95.2,233.2L99.2,233.1L103.2,232.9L107.3,232.7L111.3,232.5L115.3,232.3L119.4,232.3L123.4,232.3L127.4,232.4L131.9,234.0L136.5,236.7L141.0,239.7L145.5,242.3L150.1,243.7L154.6,243.5L159.2,242.3L163.7,240.8L168.2,239.5L172.8,238.6L177.3,238.5L181.9,239.2L186.7,237.3L191.5,234.3L196.3,232.0L201.1,231.7"/>
<path d="M30.3,235.0L34.9,236.3L39.5,238.0L44.1,239.0L48.7,238.7L53.6,237.6L58.5,236.1L63.4,234.8L68.3,234.7L72.8,234.7L77.3,235.1L81.8,235.8L86.2,236.7L90.7,237.3L95.2,237.7L99.2,237.7L103.2,238.1L107.3,238.7L111.3,239.5L115.3,240.4L119.4,241.2L123.4,241.8L127.4,242.1L131.9,241.4L136.5,240.8L141.0,240.6L145.5,240.8L150.1,241.3L154.6,242.0L159.2,243.1L163.7,244.0L168.2,244.5L172.8,244.6L177.3,244.1L181.9,243.3L186.7,243.3L191.5,242.8L196.3,241.9L201.1,241.3"/>
<path d="M30.3,242.7L34.9,241.1L39.5,238.9L44.1,237.3L48.7,237.3L53.6,239.0L58.5,241.2L63.4,242.8L68.3,242.7L72.8,243.2L77.3,243.6L81.8,243.8L86.2,243.7L90.7,243.4L95.2,242.9L99.2,243.0L103.2,242.9L107.3,242.9L111.3,242.8L115.3,242.6L119.4,242.5L123.4,242.4L127.4,242.3L131.9,243.0L136.5,242.9L141.0,242.0L145.5,240.6L150.1,239.0L154.6,237.8L159.2,237.5L163.7,236.5L168.2,235.0L172.8,233.5L177.3,232.3L181.9,231.8L186.7,232.6L191.5,235.3L196.3,238.1L201.1,239.5"/>
<path d="M30.3,230.8L34.9,232.5L39.5,236.7L44.1,241.1L48.7,243.1L53.6,241.2L58.5,237.0L63.4,232.8L68.3,231.2L72.8,230.5L77.3,230.5L81.8,231.2L86.2,232.3L90.7,233.7L95.2,234.9L99.2,234.7L103.2,234.5L107.3,234.4L111.3,234.3L115.3,234.4L119.4,234.4L123.4,234.6L127.4,234.7L131.9,234.2L136.5,234.9L141.0,236.7L145.5,239.1L150.1,241.5L154.6,243.2L159.2,242.9L163.7,240.9L168.2,237.8L172.8,234.3L177.3,231.4L181.9,229.9L186.7,230.8L191.5,234.0L196.3,237.6L201.1,239.6"/>
<path d="M30.3,234.8L34.9,235.1L39.5,235.5L44.1,235.8L48.7,235.8L53.6,236.5L58.5,236.2L63.4,235.2L68.3,234.0L72.8,233.9L77.3,234.0L81.8,234.3L86.2,234.6L90.7,235.0L95.2,235.2L99.2,235.0L103.2,235.1L107.3,235.5L111.3,236.1L115.3,236.8L119.4,237.6L123.4,238.2L127.4,238.6L131.9,239.1L136.5,238.9L141.0,237.9L145.5,236.5L150.1,234.9L154.6,233.7L159.2,234.8L163.7,236.8L168.2,239.1L172.8,241.2L177.3,242.5L181.9,242.7L186.7,243.2L191.5,241.5L196.3,238.7L201.1,236.3"/>
<path d="M30.3,234.4L34.9,235.3L39.5,238.1L44.1,241.1L48.7,242.7L53.6,243.3L58.5,242.8L63.4,241.6L68.3,240.3L72.8,239.9L77.3,239.1L81.8,238.1L86.2,237.3L90.7,236.8L95.2,236.8L99.2,237.1L103.2,237.3L107.3,237.4L111.3,237.5L115.3,237.4L119.4,237.3L123.4,237.0L127.4,236.8L131.9,237.6L136.5,239.2L141.0,241.0L145.5,242.5L150.1,243.4L154.6,243.5L159.2,242.6L163.7,239.9L168.2,236.3L172.8,232.6L177.3,229.9L181.9,228.8L186.7,230.2L191.5,234.2L196.3,238.4L201.1,240.3"/>
<path d="M30.3,234.4L34.9,234.8L39.5,234.6L44.1,233.8L48.7,233.0L53.6,235.3L58.5,238.2L63.4,240.0L68.3,239.7L72.8,239.7L77.3,240.0L81.8,240.7L86.2,241.4L90.7,242.1L95.2,242.5L99.2,243.1L103.2,243.4L107.3,243.4L111.3,243.0L115.3,242.4L119.4,241.6L123.4,240.7L127.4,239.9L131.9,239.8L136.5,239.6L141.0,239.3L145.5,239.0L150.1,238.8L154.6,238.8L159.2,238.0L163.7,236.9L168.2,235.7L172.8,234.7L177.3,234.1L181.9,234.3L186.7,234.3L191.5,235.3L196.3,236.5L201.1,237.4"/>
<path d="M30.3,241.4L34.9,242.2L39.5,241.6L44.1,240.0L48.7,238.3L53.6,236.7L58.5,233.3L63.4,230.1L68.3,228.9L72.8,231.0L77.3,234.3L81.8,238.0L86.2,241.1L90.7,242.8L95.2,242.5L99.2,241.5L103.2,240.0L107.3,238.1L111.3,236.2L115.3,234.5L119.4,233.3L123.4,232.9L127.4,233.1L131.9,232.7L136.5,232.9L141.0,233.7L145.5,234.9L150.1,236.1L154.6,237.0L159.2,237.1L163.7,236.8L168.2,236.2L172.8,235.4L177.3,234.7L181.9,234.2L186.7,234.6L191.5,235.8L196.3,237.1L201.1,237.7"/>
<path d="M30.3,235.6L34.9,236.1L39.5,234.2L44.1,231.0L48.7,228.3L53.6,230.0L58.5,235.1L63.4,240.6L68.3,243.3L72.8,243.2L77.3,242.7L81.8,241.7L86.2,240.6L90.7,239.7L95.2,239.2L99.2,239.8L103.2,240.2L107.3,240.3L111.3,240.1L115.3,239.7L119.4,239.0L123.4,238.2L127.4,237.5L131.9,236.8L136.5,235.4L141.0,233.8L145.5,232.4L150.1,231.5L154.6,231.4L159.2,231.6L163.7,231.9L168.2,232.1L172.8,232.3L177.3,232.4L181.9,232.3L186.7,233.7L191.5,235.7L196.3,237.1L201.1,237.2"/>
<path d="M30.3,239.7L34.9,237.7L39.5,235.8L44.1,234.9L48.7,235.7L53.6,235.1L58.5,236.2L63.4,238.2L68.3,240.0L72.8,239.5L77.3,238.7L81.8,238.1L86.2,237.6L90.7,237.5L95.2,237.7L99.2,236.7L103.2,235.1L107.3,233.3L111.3,231.5L115.3,229.9L119.4,228.9L123.4,228.6L127.4,228.9L131.9,228.8L136.5,229.8L141.0,231.5L145.5,233.5L150.1,235.3L154.6,236.4L159.2,236.2L163.7,236.5L168.2,237.3L172.8,238.3L177.3,239.3L181.9,239.9L186.7,239.6L191.5,238.1L196.3,236.5L201.1,235.7"/>
<path d="M30.3,241.6L34.9,238.6L39.5,234.7L44.1,232.0L48.7,232.3L53.6,234.0L58.5,235.2L63.4,235.1L68.3,233.9L72.8,233.9L77.3,233.2L81.8,232.0L86.2,230.5L90.7,229.3L95.2,228.5L99.2,228.0L103.2,228.4L107.3,229.6L111.3,231.4L115.3,233.5L119.4,235.7L123.4,237.6L127.4,238.9L131.9,237.2L136.5,234.8L141.0,232.3L145.5,230.3L150.1,229.5L154.6,230.0L159.2,230.3L163.7,231.9L168.2,234.5L172.8,237.2L177.3,239.4L181.9,240.5L186.7,240.0L191.5,236.4L196.3,231.8L201.1,228.9"/>
<path d="M30.3,243.9L34.9,242.1L39.5,240.2L44.1,239.4L48.7,240.0L53.6,239.1L58.5,235.5L63.4,231.3L68.3,228.9L72.8,229.4L77.3,230.1L81.8,230.8L86.2,231.2L90.7,231.4L95.2,231.1L99.2,232.2L103.2,233.5L107.3,234.9L111.3,236.2L115.3,237.2L119.4,237.7L123.4,237.7L127.4,237.1L131.9,237.6L136.5,237.2L141.0,236.0L145.5,234.5L150.1,233.0L154.6,231.8L159.2,231.6L163.7,231.1L168.2,230.5L172.8,229.9L177.3,229.6L181.9,229.6L186.7,232.5L191.5,236.6L196.3,239.3L201.1,239.2"/>
<path d="M30.3,235.3L34.9,235.3L39.5,237.1L44.1,239.6L48.7,241.3L53.6,239.1L58.5,235.5L63.4,232.6L68.3,232.0L72.8,232.3L77.3,233.8L81.8,236.1L86.2,238.7L90.7,240.9L95.2,242.0L99.2,241.8L103.2,241.6L107.3,241.4L111.3,241.1L115.3,240.9L119.4,240.7L123.4,240.7L127.4,240.7L131.9,241.0L136.5,241.1L141.0,240.9L145.5,240.6L150.1,240.1L154.6,239.7L159.2,240.1L163.7,239.7L168.2,238.7L172.8,237.2L177.3,235.8L181.9,234.7L186.7,233.0L191.5,231.2L196.3,230.4L201.1,231.1"/>
<path d="M30.3,249.7L34.9,248.7L39.5,247.7L44.1,247.1L48.7,247.4L53.6,249.4L58.5,251.9L63.4,253.4L68.3,252.9L72.8,253.0L77.3,252.7L81.8,252.1L86.2,251.3L90.7,250.6L95.2,250.1L99.2,250.4L103.2,250.8L107.3,251.3L111.3,251.8L115.3,252.2L119.4,252.6L123.4,252.7L127.4,252.6L131.9,252.5L136.5,252.0L141.0,251.4L145.5,250.8L150.1,250.3L154.6,250.2L159.2,250.6L163.7,250.4L168.2,249.6L172.8,248.6L177.3,247.4L181.9,246.6L186.7,246.5L191.5,247.5L196.3,249.1L201.1,250.3"/>
<path d="M30.3,245.1L34.9,245.5L39.5,245.8L44.1,246.0L48.7,245.8L53.6,245.5L58.5,247.5L63.4,250.8L68.3,253.3L72.8,254.1L77.3,254.1L81.8,253.3L86.2,251.9L90.7,250.3L95.2,248.9L99.2,249.1L103.2,249.4L107.3,249.7L111.3,250.0L115.3,250.2L119.4,250.4L123.4,250.4L127.4,250.3L131.9,250.2L136.5,249.8L141.0,249.3L145.5,248.7L150.1,248.3L154.6,248.1L159.2,247.7L163.7,248.0L168.2,248.9L172.8,250.3L177.3,251.7L181.9,252.8L186.7,251.1L191.5,248.5L196.3,246.7L201.1,246.6"/>
<path d="M30.3,251.9L34.9,251.5L39.5,251.0L44.1,250.7L48.7,250.6L53.6,248.6L58.5,246.6L63.4,245.7L68.3,246.5L72.8,247.4L77.3,248.4L81.8,249.4L86.2,249.9L90.7,250.0L95.2,249.6L99.2,248.9L103.2,248.5L107.3,248.3L111.3,248.4L115.3,248.9L119.4,249.5L123.4,250.3L127.4,251.1L131.9,249.8L136.5,247.9L141.0,246.1L145.5,244.7L150.1,244.2L154.6,244.7L159.2,244.2L163.7,244.0L168.2,244.0L172.8,244.4L177.3,244.9L181.9,245.5L186.7,245.6L191.5,247.0L196.3,248.9L201.1,250.2"/>
<path d="M30.3,247.0L34.9,247.4L39.5,247.9L44.1,248.3L48.7,248.4L53.6,247.3L58.5,246.8L63.4,247.1L68.3,248.0L72.8,247.7L77.3,248.1L81.8,248.8L86.2,249.9L90.7,250.9L95.2,251.7L99.2,252.3L103.2,252.5L107.3,252.4L111.3,251.8L115.3,251.0L119.4,250.1L123.4,249.1L127.4,248.2L131.9,247.5L136.5,246.9L141.0,246.4L145.5,246.3L150.1,246.6L154.6,247.1L159.2,247.8L163.7,248.4L168.2,249.0L172.8,249.3L177.3,249.3L181.9,248.9L186.7,250.0L191.5,249.9L196.3,248.7L201.1,247.1"/>
<path d="M30.3,252.4L34.9,253.0L39.5,252.6L44.1,251.6L48.7,250.5L53.6,249.6L58.5,248.7L63.4,248.2L68.3,248.6L72.8,249.0L77.3,249.6L81.8,250.2L86.2,250.5L90.7,250.6L95.2,250.4L99.2,249.9L103.2,249.5L107.3,249.3L111.3,249.4L115.3,249.8L119.4,250.3L123.4,251.0L127.4,251.6L131.9,250.9L136.5,249.7L141.0,248.3L145.5,247.0L150.1,246.2L154.6,246.2L159.2,246.1L163.7,246.5L168.2,247.3L172.8,248.3L177.3,249.3L181.9,250.0L186.7,250.6L191.5,249.5L196.3,247.2L201.1,245.2"/>
<path d="M30.3,246.4L34.9,245.6L39.5,246.4L44.1,248.3L48.7,250.2L53.6,249.9L58.5,248.6L63.4,247.2L68.3,246.5L72.8,245.7L77.3,244.9L81.8,244.5L86.2,244.4L90.7,244.8L95.2,245.5L99.2,246.6L103.2,248.1L107.3,249.7L111.3,251.2L115.3,252.3L119.4,253.0L123.4,253.0L127.4,252.4L131.9,253.5L136.5,254.4L141.0,255.0L145.5,255.0L150.1,254.4L154.6,253.5L159.2,252.8L163.7,251.3L168.2,249.5L172.8,247.8L177.3,246.6L181.9,246.3L186.7,245.9L191.5,245.2L196.3,244.5L201.1,244.3"/>
</g>
<path d="M30.3,252V138.4H201.1V252" fill="none" stroke="#111" stroke-width="1.1"/>
<g font-family="Liberation Sans, sans-serif" font-size="8.2" fill="#222" stroke="#222" stroke-width="0.1" text-anchor="end">
<text x="24.2" y="141.2">10</text>
<text x="24.2" y="166.8">8</text>
<text x="24.2" y="192.4">6</text>
<text x="24.2" y="218.0">4</text>
<text x="24.2" y="243.6">2</text>
</g>
<text x="0.3" y="148.3" font-family="Liberation Sans, sans-serif" font-size="10" fill="#222" stroke="#222" stroke-width="0.2">(c)</text>
<text transform="translate(11.4,240.3) rotate(-90)" font-family="Liberation Sans, sans-serif" font-size="10.2" fill="#222" stroke="#222" stroke-width="0.15">Frequency (THz)</text>
<clipPath id="clipd"><rect x="243.7" y="138.5" width="170.6" height="120"/></clipPath>
<g stroke="#4a4a4a" stroke-width="0.9">
<line x1="266.5" y1="138.3" x2="266.5" y2="252"/>
<line x1="288.6" y1="138.3" x2="288.6" y2="252"/>
<line x1="320.4" y1="138.3" x2="320.4" y2="252"/>
<line x1="359.7" y1="138.3" x2="359.7" y2="252"/>
<line x1="391.4" y1="138.3" x2="391.4" y2="252"/>
</g>
<g clip-path="url(#clipd)" fill="none" stroke-width="1">
<path stroke="#4a80f0" d="M243.7,192.8L248.3,192.0L252.8,190.1L257.4,187.7L261.9,185.8L266.5,185.1L270.9,184.5L275.3,182.9L279.8,181.0L284.2,179.4L288.6,178.8L293.1,179.5L297.7,181.4L302.2,184.2L306.8,187.3L311.3,190.1L315.9,192.1L320.4,192.8L324.8,192.2L329.1,190.6L333.5,188.2L337.9,185.2L342.2,182.0L346.6,179.0L351.0,176.5L355.3,174.9L359.7,174.4L364.2,175.3L368.8,177.8L373.3,181.3L377.8,185.3L382.3,188.9L386.9,191.4L391.4,192.3L396.0,191.6L400.6,189.9L405.1,187.7L409.7,186.0L414.3,185.3"/>
<path stroke="#4a80f0" d="M243.7,186.9L248.3,186.1L252.8,183.8L257.4,181.0L261.9,178.7L266.5,177.9L270.9,178.0L275.3,178.2L279.8,178.5L284.2,178.7L288.6,178.8L293.1,178.5L297.7,177.8L302.2,176.6L306.8,175.4L311.3,174.3L315.9,173.5L320.4,173.2L324.8,173.8L329.1,175.5L333.5,178.0L337.9,181.1L342.2,184.4L346.6,187.5L351.0,190.1L355.3,191.7L359.7,192.3L364.2,190.3L368.8,188.7L373.3,187.8L377.8,187.8L382.3,188.7L386.9,190.3L391.4,192.3L396.0,191.1L400.6,188.0L405.1,184.2L409.7,181.1L414.3,180.0"/>
<path stroke="#3f66e4" d="M243.7,178.8L248.3,179.4L252.8,180.8L257.4,182.6L261.9,184.1L266.5,184.6L270.9,182.7L275.3,180.4L279.8,178.6L284.2,178.0L288.6,178.8L293.1,178.6L297.7,178.2L302.2,177.5L306.8,176.8L311.3,176.2L315.9,175.7L320.4,175.6L324.8,175.7L329.1,176.2L333.5,176.9L337.9,177.8L342.2,178.7L346.6,179.6L351.0,180.3L355.3,180.7L359.7,180.9L364.2,179.8L368.8,178.7L373.3,177.8L377.8,177.4L382.3,177.4L386.9,177.9L391.4,178.8L396.0,179.4L400.6,180.9L405.1,182.8L409.7,184.3L414.3,184.8"/>
<path stroke="#3f66e4" d="M243.7,172.8L248.3,171.9L252.8,170.5L257.4,169.0L261.9,168.1L266.5,168.1L270.9,169.2L275.3,169.9L279.8,169.9L284.2,169.2L288.6,168.1L293.1,168.1L297.7,168.3L302.2,168.7L306.8,169.2L311.3,169.6L315.9,170.0L320.4,170.2L324.8,170.7L329.1,171.5L333.5,172.5L337.9,173.6L342.2,174.7L346.6,175.6L351.0,176.2L355.3,176.4L359.7,176.2L364.2,175.1L368.8,173.2L373.3,171.0L377.8,168.9L382.3,167.3L386.9,166.5L391.4,166.7L396.0,167.7L400.6,168.3L405.1,168.1L409.7,167.4L414.3,166.2"/>
<path stroke="#3448d8" d="M243.7,165.6L248.3,164.8L252.8,163.6L257.4,162.6L261.9,162.0L266.5,162.1L270.9,161.3L275.3,161.0L279.8,161.4L284.2,162.2L288.6,163.2L293.1,163.8L297.7,164.6L302.2,165.2L306.8,165.8L311.3,166.0L315.9,165.9L320.4,165.6L324.8,165.1L329.1,164.8L333.5,164.8L337.9,165.0L342.2,165.4L346.6,166.0L351.0,166.7L355.3,167.5L359.7,168.1L364.2,167.1L368.8,165.8L373.3,164.2L377.8,162.9L382.3,162.0L386.9,161.7L391.4,162.1L396.0,163.4L400.6,164.6L405.1,165.2L409.7,164.9L414.3,163.9"/>
<path stroke="#3448d8" d="M243.7,162.1L248.3,161.3L252.8,160.4L257.4,159.6L261.9,159.2L266.5,159.5L270.9,160.9L275.3,162.0L279.8,162.4L284.2,162.0L288.6,160.9L293.1,160.9L297.7,160.9L302.2,160.9L306.8,160.9L311.3,160.9L315.9,160.9L320.4,160.9L324.8,161.0L329.1,161.2L333.5,161.4L337.9,161.6L342.2,161.8L346.6,162.0L351.0,162.1L355.3,162.1L359.7,162.1L364.2,162.6L368.8,162.9L373.3,163.1L377.8,163.0L382.3,162.7L386.9,162.2L391.4,161.6L396.0,162.0L400.6,162.3L405.1,162.3L409.7,162.0L414.3,161.6"/>
<path stroke="#3448d8" d="M243.7,160.2L248.3,159.2L252.8,157.9L257.4,157.0L261.9,156.7L266.5,157.2L270.9,157.8L275.3,158.5L279.8,159.0L284.2,159.1L288.6,158.8L293.1,159.5L297.7,160.0L302.2,160.4L306.8,160.5L311.3,160.3L315.9,159.9L320.4,159.3L324.8,159.0L329.1,158.7L333.5,158.6L337.9,158.5L342.2,158.5L346.6,158.6L351.0,158.7L355.3,159.0L359.7,159.3L364.2,159.4L368.8,159.7L373.3,160.1L377.8,160.5L382.3,160.8L386.9,160.9L391.4,160.9L396.0,160.0L400.6,159.2L405.1,158.8L409.7,158.9L414.3,159.5"/>
<path stroke="#3448d8" d="M243.7,158.1L248.3,158.5L252.8,158.0L257.4,157.0L261.9,155.8L266.5,154.9L270.9,155.4L275.3,156.0L279.8,156.3L284.2,156.4L288.6,156.0L293.1,155.6L297.7,155.4L302.2,155.6L306.8,156.1L311.3,156.7L315.9,157.5L320.4,158.1L324.8,158.1L329.1,158.0L333.5,157.9L337.9,157.7L342.2,157.5L346.6,157.4L351.0,157.3L355.3,157.2L359.7,157.2L364.2,157.3L368.8,157.7L373.3,158.3L377.8,159.0L382.3,159.6L386.9,160.0L391.4,160.2L396.0,160.5L400.6,160.1L405.1,159.1L409.7,157.9L414.3,156.9"/>
<path stroke="#3448d8" d="M243.7,156.0L248.3,156.7L252.8,156.3L257.4,154.8L261.9,152.8L266.5,151.1L270.9,150.1L275.3,149.5L279.8,149.6L284.2,150.3L288.6,151.4L293.1,152.3L297.7,153.4L302.2,154.4L306.8,155.2L311.3,155.6L315.9,155.4L320.4,154.9L324.8,154.3L329.1,153.7L333.5,153.0L337.9,152.5L342.2,152.1L346.6,151.9L351.0,151.9L355.3,152.1L359.7,152.5L364.2,153.1L368.8,154.3L373.3,155.8L377.8,157.3L382.3,158.6L386.9,159.4L391.4,159.5L396.0,157.8L400.6,155.6L405.1,153.8L409.7,152.9L414.3,153.5"/>
<path stroke="#3448d8" d="M243.7,148.8L248.3,149.3L252.8,149.4L257.4,149.0L261.9,148.4L266.5,147.6L270.9,145.0L275.3,143.4L279.8,143.4L284.2,145.0L288.6,147.6L293.1,147.5L297.7,147.6L302.2,148.0L306.8,148.5L311.3,149.1L315.9,149.6L320.4,150.0L324.8,150.8L329.1,151.4L333.5,151.7L337.9,151.6L342.2,151.2L346.6,150.5L351.0,149.6L355.3,148.6L359.7,147.6L364.2,146.7L368.8,146.2L373.3,146.1L377.8,146.7L382.3,147.6L386.9,148.8L391.4,150.0L396.0,148.9L400.6,148.3L405.1,148.3L409.7,148.9L414.3,150.0"/>
<path stroke="#3448d8" d="M243.7,144.2L248.3,142.8L252.8,141.6L257.4,140.8L261.9,141.0L266.5,141.8L270.9,142.3L275.3,143.0L279.8,143.7L284.2,144.2L288.6,144.2L293.1,145.5L297.7,146.8L302.2,147.8L306.8,148.4L311.3,148.3L315.9,147.6L320.4,146.5L324.8,145.9L329.1,145.0L333.5,144.1L337.9,143.1L342.2,142.3L346.6,141.8L351.0,141.5L355.3,141.5L359.7,141.8L364.2,143.8L368.8,145.6L373.3,147.1L377.8,147.9L382.3,147.8L386.9,146.9L391.4,145.3L396.0,144.3L400.6,143.9L405.1,144.2L409.7,145.2L414.3,146.5"/>
<path stroke="#3448d8" d="M243.7,140.7L248.3,139.6L252.8,138.3L257.4,137.4L261.9,137.1L266.5,137.7L270.9,138.5L275.3,139.1L279.8,139.3L284.2,139.0L288.6,138.3L293.1,137.2L297.7,136.6L302.2,136.7L306.8,137.5L311.3,138.8L315.9,140.3L320.4,141.8L324.8,142.8L329.1,143.4L333.5,143.7L337.9,143.5L342.2,142.9L346.6,141.9L351.0,140.8L355.3,139.5L359.7,138.3L364.2,138.9L368.8,139.4L373.3,139.9L377.8,140.2L382.3,140.2L386.9,139.9L391.4,139.5L396.0,137.8L400.6,137.0L405.1,137.4L409.7,138.8L414.3,140.7"/>
<path stroke="#3448d8" d="M243.7,137.2L248.3,137.7L252.8,137.5L257.4,136.8L261.9,135.8L266.5,134.9L270.9,133.7L275.3,133.2L279.8,133.5L284.2,134.6L288.6,136.0L293.1,135.6L297.7,135.3L302.2,135.4L306.8,135.6L311.3,136.1L315.9,136.6L320.4,137.2L324.8,135.6L329.1,134.0L333.5,132.7L337.9,131.8L342.2,131.4L346.6,131.5L351.0,132.2L355.3,133.4L359.7,134.9L364.2,132.7L368.8,131.1L373.3,130.4L377.8,130.7L382.3,131.9L386.9,133.8L391.4,136.0L396.0,134.8L400.6,134.3L405.1,134.6L409.7,135.7L414.3,137.2"/>
<path stroke="#3448d8" d="M243.7,133.7L248.3,131.6L252.8,129.9L257.4,129.2L261.9,129.7L266.5,131.4L270.9,133.5L275.3,134.8L279.8,134.8L284.2,133.5L288.6,131.4L293.1,130.5L297.7,130.1L302.2,130.2L306.8,130.7L311.3,131.6L315.9,132.6L320.4,133.7L324.8,132.4L329.1,131.1L333.5,130.0L337.9,129.2L342.2,128.8L346.6,128.9L351.0,129.4L355.3,130.2L359.7,131.4L364.2,131.8L368.8,132.2L373.3,132.4L377.8,132.4L382.3,132.2L386.9,131.8L391.4,131.4L396.0,131.3L400.6,131.7L405.1,132.4L409.7,133.2L414.3,133.7"/>
<path stroke="#3448d8" d="M243.7,159.4L248.3,157.9L252.8,156.3L257.4,155.3L261.9,155.2L266.5,156.1L270.9,155.3L275.3,155.7L279.8,157.1L284.2,159.0L288.6,160.5L293.1,160.9L297.7,161.1L302.2,161.1L306.8,161.0L311.3,160.7L315.9,160.3L320.4,160.0L324.8,159.3L329.1,158.8L333.5,158.7L337.9,158.9L342.2,159.4L346.6,160.1L351.0,161.0L355.3,161.9L359.7,162.8L364.2,163.2L368.8,163.3L373.3,163.0L377.8,162.4L382.3,161.5L386.9,160.6L391.4,159.8L396.0,158.8L400.6,157.9L405.1,157.4L409.7,157.6L414.3,158.4"/>
<path stroke="#3448d8" d="M243.7,161.7L248.3,162.2L252.8,162.1L257.4,161.6L261.9,160.8L266.5,159.9L270.9,160.2L275.3,160.8L279.8,161.5L284.2,162.1L288.6,162.3L293.1,161.9L297.7,161.0L302.2,159.9L306.8,158.7L311.3,157.6L315.9,156.9L320.4,156.8L324.8,157.4L329.1,158.0L333.5,158.4L337.9,158.7L342.2,158.7L346.6,158.5L351.0,158.1L355.3,157.6L359.7,157.0L364.2,156.5L368.8,156.6L373.3,157.2L377.8,158.3L382.3,159.6L386.9,160.8L391.4,161.8L396.0,162.1L400.6,161.8L405.1,161.0L409.7,159.9L414.3,159.1"/>
<path stroke="#3448d8" d="M243.7,159.6L248.3,160.0L252.8,160.7L257.4,161.5L261.9,162.2L266.5,162.4L270.9,162.5L275.3,162.7L279.8,162.8L284.2,162.8L288.6,162.7L293.1,162.3L297.7,161.9L302.2,161.5L306.8,161.2L311.3,161.0L315.9,161.1L320.4,161.4L324.8,160.8L329.1,160.2L333.5,159.7L337.9,159.3L342.2,159.2L346.6,159.2L351.0,159.4L355.3,159.8L359.7,160.4L364.2,160.5L368.8,160.2L373.3,159.5L377.8,158.6L382.3,157.7L386.9,156.8L391.4,156.3L396.0,155.5L400.6,155.1L405.1,155.2L409.7,155.7L414.3,156.6"/>
<path stroke="#3448d8" d="M243.7,160.0L248.3,161.1L252.8,161.5L257.4,161.1L261.9,160.0L266.5,158.6L270.9,159.5L275.3,159.8L279.8,159.5L284.2,158.7L288.6,157.6L293.1,158.3L297.7,159.0L302.2,159.6L306.8,159.9L311.3,160.0L315.9,159.8L320.4,159.3L324.8,159.7L329.1,160.0L333.5,160.1L337.9,160.1L342.2,159.8L346.6,159.5L351.0,159.0L355.3,158.5L359.7,157.9L364.2,158.9L368.8,159.6L373.3,160.0L377.8,160.0L382.3,159.5L386.9,158.8L391.4,157.9L396.0,159.1L400.6,160.8L405.1,162.3L409.7,163.0L414.3,162.7"/>
<path stroke="#3448d8" d="M243.7,142.1L248.3,138.5L252.8,135.1L257.4,133.3L261.9,133.6L266.5,136.1L270.9,138.0L275.3,141.3L279.8,144.8L284.2,147.1L288.6,147.3L293.1,146.3L297.7,145.4L302.2,144.8L306.8,144.8L311.3,145.1L315.9,145.9L320.4,147.0L324.8,147.6L329.1,148.0L333.5,148.3L337.9,148.3L342.2,148.2L346.6,147.8L351.0,147.2L355.3,146.6L359.7,145.9L364.2,144.0L368.8,141.9L373.3,140.1L377.8,138.9L382.3,138.5L386.9,139.0L391.4,140.4L396.0,142.0L400.6,142.6L405.1,141.9L409.7,140.2L414.3,138.2"/>
<path stroke="#3448d8" d="M243.7,136.4L248.3,140.3L252.8,144.1L257.4,146.5L261.9,146.4L266.5,144.1L270.9,143.4L275.3,142.1L279.8,140.7L284.2,139.7L288.6,139.4L293.1,139.8L297.7,140.4L302.2,141.3L306.8,142.1L311.3,142.9L315.9,143.3L320.4,143.4L324.8,142.2L329.1,141.5L333.5,141.2L337.9,141.5L342.2,142.3L346.6,143.5L351.0,145.0L355.3,146.5L359.7,148.0L364.2,150.2L368.8,151.7L373.3,152.0L377.8,151.2L382.3,149.3L386.9,146.9L391.4,144.3L396.0,144.8L400.6,146.9L405.1,149.7L409.7,152.3L414.3,153.6"/>
<path stroke="#d42a96" d="M243.7,214.6L248.3,214.6L252.8,214.6L257.4,214.6L261.9,214.6L266.5,214.6L270.9,214.6L275.3,214.5L279.8,214.5L284.2,214.4L288.6,214.4L293.1,214.4L297.7,214.4L302.2,214.5L306.8,214.5L311.3,214.6L315.9,214.6L320.4,214.6L324.8,214.6L329.1,214.6L333.5,214.6L337.9,214.6L342.2,214.6L346.6,214.6L351.0,214.6L355.3,214.6L359.7,214.6L364.2,214.6L368.8,214.6L373.3,214.6L377.8,214.5L382.3,214.5L386.9,214.5L391.4,214.5L396.0,214.5L400.6,214.5L405.1,214.6L409.7,214.6L414.3,214.6"/>
<path stroke="#d42a96" d="M243.7,216.4L248.3,216.4L252.8,216.4L257.4,216.4L261.9,216.4L266.5,216.4L270.9,216.4L275.3,216.4L279.8,216.4L284.2,216.4L288.6,216.4L293.1,216.4L297.7,216.4L302.2,216.4L306.8,216.4L311.3,216.4L315.9,216.4L320.4,216.4L324.8,216.4L329.1,216.4L333.5,216.4L337.9,216.4L342.2,216.4L346.6,216.4L351.0,216.4L355.3,216.4L359.7,216.4L364.2,216.4L368.8,216.4L373.3,216.4L377.8,216.4L382.3,216.4L386.9,216.4L391.4,216.4L396.0,216.4L400.6,216.4L405.1,216.4L409.7,216.4L414.3,216.4"/>
<path stroke="#c82898" d="M243.7,223.4L248.3,223.4L252.8,223.1L257.4,222.8L261.9,222.6L266.5,222.5L270.9,221.1L275.3,219.9L279.8,219.3L284.2,219.6L288.6,220.7L293.1,220.8L297.7,221.2L302.2,221.7L306.8,222.4L311.3,222.9L315.9,223.3L320.4,223.4L324.8,223.1L329.1,222.7L333.5,222.3L337.9,222.0L342.2,221.7L346.6,221.6L351.0,221.6L355.3,221.8L359.7,222.0L364.2,222.1L368.8,222.1L373.3,222.2L377.8,222.3L382.3,222.4L386.9,222.5L391.4,222.5L396.0,222.6L400.6,222.8L405.1,223.1L409.7,223.4L414.3,223.4"/>
<path stroke="#c82898" d="M243.7,225.8L248.3,225.6L252.8,225.3L257.4,224.9L261.9,224.5L266.5,224.4L270.9,226.0L275.3,228.2L279.8,230.1L284.2,230.9L288.6,230.4L293.1,230.2L297.7,229.5L302.2,228.5L306.8,227.4L311.3,226.5L315.9,225.8L320.4,225.5L324.8,225.6L329.1,225.7L333.5,225.8L337.9,226.0L342.2,226.2L346.6,226.4L351.0,226.6L355.3,226.7L359.7,226.7L364.2,227.1L368.8,227.3L373.3,227.1L377.8,226.7L382.3,226.1L386.9,225.4L391.4,224.8L396.0,224.9L400.6,225.2L405.1,225.4L409.7,225.7L414.3,225.8"/>
<path stroke="#c82898" d="M243.7,231.3L248.3,231.0L252.8,230.2L257.4,229.1L261.9,228.2L266.5,227.9L270.9,227.6L275.3,227.5L279.8,227.5L284.2,227.6L288.6,227.9L293.1,227.6L297.7,227.6L302.2,227.9L306.8,228.5L311.3,229.1L315.9,229.7L320.4,230.2L324.8,230.1L329.1,230.0L333.5,229.8L337.9,229.6L342.2,229.4L346.6,229.2L351.0,229.1L355.3,229.0L359.7,229.0L364.2,229.0L368.8,229.3L373.3,229.7L377.8,230.2L382.3,230.7L386.9,231.1L391.4,231.3L396.0,231.3L400.6,231.0L405.1,230.6L409.7,230.3L414.3,230.2"/>
<path stroke="#c82898" d="M243.7,234.1L248.3,233.7L252.8,233.3L257.4,233.0L261.9,233.0L266.5,233.2L270.9,233.9L275.3,234.5L279.8,234.6L284.2,234.3L288.6,233.7L293.1,233.5L297.7,233.3L302.2,233.0L306.8,232.7L311.3,232.5L315.9,232.5L320.4,232.5L324.8,232.3L329.1,232.3L333.5,232.4L337.9,232.7L342.2,233.1L346.6,233.6L351.0,234.1L355.3,234.5L359.7,234.8L364.2,235.4L368.8,235.7L373.3,235.8L377.8,235.5L382.3,235.0L386.9,234.4L391.4,233.7L396.0,232.3L400.6,231.3L405.1,231.2L409.7,231.9L414.3,233.2"/>
<path stroke="#b82a9e" d="M243.7,236.0L248.3,235.4L252.8,235.2L257.4,235.4L261.9,236.0L266.5,236.7L270.9,235.5L275.3,234.8L279.8,235.0L284.2,235.9L288.6,237.2L293.1,237.5L297.7,237.7L302.2,237.6L306.8,237.4L311.3,237.0L315.9,236.5L320.4,236.0L324.8,236.1L329.1,236.4L333.5,236.7L337.9,237.0L342.2,237.4L346.6,237.6L351.0,237.8L355.3,237.9L359.7,237.9L364.2,238.2L368.8,238.4L373.3,238.2L377.8,237.8L382.3,237.2L386.9,236.6L391.4,236.0L396.0,237.3L400.6,238.4L405.1,238.8L409.7,238.3L414.3,237.2"/>
<path stroke="#b82a9e" d="M243.7,238.6L248.3,240.0L252.8,241.0L257.4,241.3L261.9,240.7L266.5,239.5L270.9,240.1L275.3,240.2L279.8,239.8L284.2,239.1L288.6,238.3L293.1,237.7L297.7,237.4L302.2,237.4L306.8,237.8L311.3,238.5L315.9,239.4L320.4,240.2L324.8,240.7L329.1,241.0L333.5,241.1L337.9,241.0L342.2,240.6L346.6,240.1L351.0,239.5L355.3,238.9L359.7,238.3L364.2,238.0L368.8,237.9L373.3,237.9L377.8,238.2L382.3,238.6L386.9,239.0L391.4,239.5L396.0,240.1L400.6,240.2L405.1,239.8L409.7,239.1L414.3,238.3"/>
<path stroke="#b82a9e" d="M243.7,241.3L248.3,242.6L252.8,243.4L257.4,243.6L261.9,243.0L266.5,241.8L270.9,242.8L275.3,243.6L279.8,243.9L284.2,243.7L288.6,243.0L293.1,242.5L297.7,242.0L302.2,241.4L306.8,241.0L311.3,240.8L315.9,240.8L320.4,241.1L324.8,241.2L329.1,241.3L333.5,241.5L337.9,241.7L342.2,241.9L346.6,242.2L351.0,242.3L355.3,242.5L359.7,242.5L364.2,242.4L368.8,242.2L373.3,242.0L377.8,241.9L382.3,241.8L386.9,241.7L391.4,241.8L396.0,242.1L400.6,242.4L405.1,242.8L409.7,243.0L414.3,243.0"/>
<path stroke="#b82a9e" d="M243.7,244.8L248.3,245.4L252.8,245.5L257.4,245.2L261.9,244.6L266.5,243.9L270.9,244.1L275.3,244.4L279.8,244.9L284.2,245.2L288.6,245.3L293.1,244.4L297.7,243.5L302.2,242.9L306.8,242.7L311.3,242.8L315.9,243.3L320.4,244.1L324.8,244.6L329.1,245.2L333.5,245.6L337.9,246.0L342.2,246.2L346.6,246.2L351.0,246.1L355.3,245.7L359.7,245.3L364.2,244.8L368.8,244.4L373.3,244.1L377.8,244.0L382.3,244.1L386.9,244.4L391.4,244.8L396.0,245.4L400.6,245.7L405.1,245.5L409.7,244.9L414.3,244.1"/>
<path stroke="#b82a9e" d="M243.7,247.6L248.3,248.4L252.8,248.6L257.4,248.2L261.9,247.4L266.5,246.5L270.9,247.1L275.3,247.6L279.8,248.0L284.2,248.0L288.6,247.6L293.1,248.4L297.7,249.0L302.2,249.3L306.8,249.2L311.3,248.7L315.9,248.0L320.4,247.2L324.8,246.5L329.1,246.0L333.5,245.6L337.9,245.6L342.2,245.7L346.6,246.1L351.0,246.7L355.3,247.4L359.7,248.1L364.2,248.3L368.8,248.3L373.3,248.2L377.8,247.8L382.3,247.4L386.9,247.0L391.4,246.7L396.0,247.7L400.6,248.4L405.1,248.7L409.7,248.4L414.3,247.6"/>
<path stroke="#b82a9e" d="M243.7,250.2L248.3,251.5L252.8,252.2L257.4,251.9L261.9,250.9L266.5,249.5L270.9,250.7L275.3,251.6L279.8,251.7L284.2,251.1L288.6,249.9L293.1,250.5L297.7,251.1L302.2,251.4L306.8,251.5L311.3,251.4L315.9,251.0L320.4,250.4L324.8,250.5L329.1,250.6L333.5,250.5L337.9,250.4L342.2,250.2L346.6,250.0L351.0,249.8L355.3,249.6L359.7,249.5L364.2,249.3L368.8,249.2L373.3,249.2L377.8,249.3L382.3,249.5L386.9,249.7L391.4,249.9L396.0,248.7L400.6,248.0L405.1,248.1L409.7,249.1L414.3,250.4"/>
<path stroke="#b82a9e" d="M243.7,243.1L248.3,243.0L252.8,244.4L257.4,246.8L261.9,249.1L266.5,250.6L270.9,250.7L275.3,249.9L279.8,248.6L284.2,247.2L288.6,246.3L293.1,245.9L297.7,245.2L302.2,244.4L306.8,243.6L311.3,242.9L315.9,242.6L320.4,242.7L324.8,243.0L329.1,243.8L333.5,245.1L337.9,246.6L342.2,248.3L346.6,249.8L351.0,251.1L355.3,252.0L359.7,252.3L364.2,252.6L368.8,252.0L373.3,250.6L377.8,248.7L382.3,246.6L386.9,244.7L391.4,243.5L396.0,243.3L400.6,244.2L405.1,245.8L409.7,247.6L414.3,248.8"/>
<path stroke="#b82a9e" d="M243.7,243.9L248.3,244.6L252.8,245.8L257.4,247.0L261.9,247.8L266.5,247.8L270.9,248.3L275.3,248.8L279.8,249.2L284.2,249.2L288.6,248.9L293.1,249.5L297.7,249.3L302.2,248.4L306.8,246.9L311.3,245.2L315.9,243.6L320.4,242.4L324.8,243.0L329.1,243.9L333.5,245.0L337.9,246.2L342.2,247.4L346.6,248.3L351.0,249.0L355.3,249.2L359.7,249.1L364.2,249.3L368.8,249.0L373.3,248.0L377.8,246.7L382.3,245.3L386.9,244.0L391.4,243.2L396.0,244.9L400.6,247.0L405.1,248.7L409.7,249.3L414.3,248.6"/>
<path stroke="#b82a9e" d="M243.7,247.1L248.3,246.0L252.8,245.5L257.4,245.9L261.9,247.0L266.5,248.3L270.9,249.8L275.3,251.7L279.8,253.2L284.2,253.7L288.6,253.1L293.1,253.3L297.7,253.2L302.2,253.0L306.8,252.6L311.3,252.2L315.9,251.9L320.4,251.6L324.8,250.9L329.1,249.7L333.5,248.2L337.9,246.6L342.2,245.0L346.6,243.8L351.0,242.9L355.3,242.5L359.7,242.8L364.2,244.2L368.8,246.2L373.3,248.5L377.8,250.5L382.3,251.9L386.9,252.4L391.4,251.9L396.0,252.8L400.6,252.8L405.1,252.0L409.7,250.5L414.3,249.1"/>
<path stroke="#b82a9e" d="M243.7,242.6L248.3,244.1L252.8,245.5L257.4,246.4L261.9,246.4L266.5,245.5L270.9,245.9L275.3,247.1L279.8,248.6L284.2,249.9L288.6,250.4L293.1,250.9L297.7,251.1L302.2,250.8L306.8,250.3L311.3,249.5L315.9,248.6L320.4,247.9L324.8,248.1L329.1,248.5L333.5,248.9L337.9,249.4L342.2,249.9L346.6,250.3L351.0,250.5L355.3,250.6L359.7,250.5L364.2,249.7L368.8,248.3L373.3,246.5L377.8,244.9L382.3,243.6L386.9,242.9L391.4,243.1L396.0,242.4L400.6,241.9L405.1,241.7L409.7,241.9L414.3,242.4"/>
<path stroke="#b82a9e" d="M243.7,251.2L248.3,251.2L252.8,250.9L257.4,250.4L261.9,249.9L266.5,249.6L270.9,250.7L275.3,251.1L279.8,250.8L284.2,249.8L288.6,248.5L293.1,248.8L297.7,249.1L302.2,249.3L306.8,249.4L311.3,249.3L315.9,249.2L320.4,248.9L324.8,248.1L329.1,247.2L333.5,246.3L337.9,245.5L342.2,244.9L346.6,244.6L351.0,244.6L355.3,244.9L359.7,245.5L364.2,245.4L368.8,245.3L373.3,245.0L377.8,244.7L382.3,244.5L386.9,244.3L391.4,244.3L396.0,244.6L400.6,245.8L405.1,247.5L409.7,248.9L414.3,249.5"/>
<path stroke="#b82a9e" d="M243.7,246.4L248.3,245.2L252.8,244.5L257.4,244.7L261.9,245.5L266.5,246.8L270.9,247.6L275.3,247.5L279.8,246.6L284.2,245.3L288.6,244.1L293.1,243.8L297.7,244.2L302.2,245.3L306.8,246.7L311.3,248.2L315.9,249.5L320.4,250.4L324.8,250.4L329.1,250.4L333.5,250.4L337.9,250.3L342.2,250.2L346.6,250.0L351.0,249.9L355.3,249.8L359.7,249.8L364.2,249.5L368.8,248.6L373.3,247.3L377.8,245.8L382.3,244.5L386.9,243.5L391.4,243.1L396.0,242.5L400.6,243.0L405.1,244.4L409.7,246.2L414.3,247.6"/>
<path stroke="#b82a9e" d="M243.7,240.4L248.3,241.7L252.8,241.6L257.4,240.4L261.9,238.4L266.5,236.4L270.9,235.1L275.3,234.7L279.8,235.6L284.2,237.3L288.6,239.2L293.1,238.1L297.7,237.0L302.2,236.3L306.8,236.1L311.3,236.4L315.9,237.2L320.4,238.2L324.8,237.7L329.1,237.0L333.5,236.1L337.9,235.2L342.2,234.3L346.6,233.6L351.0,233.2L355.3,233.1L359.7,233.3L364.2,234.2L368.8,235.4L373.3,236.6L377.8,237.6L382.3,238.1L386.9,238.2L391.4,237.6L396.0,236.7L400.6,235.4L405.1,234.2L409.7,233.5L414.3,233.6"/>
<path stroke="#b82a9e" d="M243.7,239.8L248.3,240.5L252.8,240.5L257.4,239.9L261.9,238.9L266.5,237.9L270.9,237.2L275.3,237.4L279.8,238.5L284.2,240.0L288.6,241.4L293.1,242.6L297.7,243.5L302.2,244.0L306.8,243.9L311.3,243.3L315.9,242.3L320.4,241.1L324.8,241.9L329.1,242.6L333.5,243.0L337.9,243.1L342.2,243.0L346.6,242.5L351.0,241.9L355.3,241.0L359.7,240.2L364.2,241.2L368.8,242.0L373.3,242.5L377.8,242.4L382.3,241.9L386.9,241.0L391.4,239.9L396.0,237.8L400.6,235.2L405.1,233.1L409.7,232.3L414.3,233.0"/>
<path stroke="#b82a9e" d="M243.7,233.3L248.3,232.5L252.8,233.6L257.4,236.2L261.9,239.3L266.5,241.6L270.9,241.2L275.3,239.0L279.8,236.1L284.2,233.4L288.6,232.1L293.1,232.3L297.7,233.1L302.2,234.5L306.8,236.2L311.3,237.7L315.9,238.9L320.4,239.4L324.8,239.3L329.1,239.1L333.5,239.0L337.9,238.9L342.2,238.8L346.6,238.8L351.0,238.8L355.3,238.9L359.7,239.0L364.2,239.4L368.8,239.4L373.3,238.9L377.8,238.2L382.3,237.3L386.9,236.4L391.4,235.7L396.0,235.3L400.6,235.8L405.1,237.1L409.7,238.5L414.3,239.7"/>
<path stroke="#b82a9e" d="M243.7,243.1L248.3,244.0L252.8,245.3L257.4,246.6L261.9,247.3L266.5,247.2L270.9,248.1L275.3,249.7L279.8,251.4L284.2,252.5L288.6,252.6L293.1,252.2L297.7,251.1L302.2,249.6L306.8,247.9L311.3,246.4L315.9,245.3L320.4,245.0L324.8,245.6L329.1,246.2L333.5,246.7L337.9,247.2L342.2,247.4L346.6,247.5L351.0,247.3L355.3,247.0L359.7,246.5L364.2,246.4L368.8,246.6L373.3,246.9L377.8,247.3L382.3,247.7L386.9,248.1L391.4,248.3L396.0,248.8L400.6,248.8L405.1,248.3L409.7,247.5L414.3,246.6"/>
<path stroke="#b82a9e" d="M243.7,250.8L248.3,249.5L252.8,247.4L257.4,245.3L261.9,244.0L266.5,244.0L270.9,244.7L275.3,245.7L279.8,246.8L284.2,247.3L288.6,247.3L293.1,247.3L297.7,247.7L302.2,248.4L306.8,249.2L311.3,250.0L315.9,250.6L320.4,250.9L324.8,250.6L329.1,250.1L333.5,249.4L337.9,248.6L342.2,247.8L346.6,247.0L351.0,246.5L355.3,246.2L359.7,246.1L364.2,246.6L368.8,246.7L373.3,246.4L377.8,245.7L382.3,244.8L386.9,243.8L391.4,243.0L396.0,242.7L400.6,242.7L405.1,243.0L409.7,243.5L414.3,244.0"/>
<path stroke="#b82a9e" d="M243.7,248.0L248.3,248.5L252.8,248.8L257.4,248.8L261.9,248.5L266.5,248.0L270.9,248.7L275.3,248.7L279.8,248.0L284.2,246.9L288.6,245.7L293.1,246.4L297.7,247.6L302.2,249.1L306.8,250.6L311.3,251.9L315.9,252.6L320.4,252.6L324.8,252.5L329.1,252.3L333.5,252.1L337.9,251.8L342.2,251.6L346.6,251.4L351.0,251.2L355.3,251.2L359.7,251.2L364.2,251.6L368.8,251.0L373.3,249.7L377.8,247.9L382.3,246.0L386.9,244.2L391.4,243.1L396.0,244.3L400.6,246.3L405.1,248.6L409.7,250.1L414.3,250.3"/>
<path stroke="#b82a9e" d="M243.7,250.8L248.3,251.2L252.8,251.7L257.4,252.0L261.9,252.1L266.5,251.8L270.9,251.1L275.3,249.4L279.8,247.4L284.2,245.7L288.6,245.2L293.1,245.3L297.7,245.2L302.2,244.9L306.8,244.5L311.3,244.1L315.9,243.7L320.4,243.4L324.8,243.1L329.1,242.9L333.5,242.7L337.9,242.7L342.2,242.8L346.6,243.0L351.0,243.2L355.3,243.5L359.7,243.9L364.2,243.7L368.8,244.1L373.3,244.9L377.8,246.0L382.3,247.2L386.9,248.2L391.4,248.8L396.0,248.3L400.6,248.8L405.1,250.0L409.7,251.5L414.3,252.7"/>
<path stroke="#b82a9e" d="M243.7,248.5L248.3,248.1L252.8,248.2L257.4,249.0L261.9,250.0L266.5,250.9L270.9,249.3L275.3,246.9L279.8,244.7L284.2,243.6L288.6,243.9L293.1,244.7L297.7,245.4L302.2,245.8L306.8,245.8L311.3,245.5L315.9,244.9L320.4,244.2L324.8,244.8L329.1,245.9L333.5,247.2L337.9,248.6L342.2,250.0L346.6,251.1L351.0,251.9L355.3,252.3L359.7,252.1L364.2,252.2L368.8,252.2L373.3,252.0L377.8,251.8L382.3,251.6L386.9,251.4L391.4,251.2L396.0,250.7L400.6,249.4L405.1,248.0L409.7,246.9L414.3,246.5"/>
<path stroke="#b82a9e" d="M243.7,245.3L248.3,246.2L252.8,247.2L257.4,247.9L261.9,248.1L266.5,247.6L270.9,248.5L275.3,249.1L279.8,249.2L284.2,248.8L288.6,248.0L293.1,248.4L297.7,249.0L302.2,249.7L306.8,250.3L311.3,250.8L315.9,251.0L320.4,250.9L324.8,251.0L329.1,250.8L333.5,250.4L337.9,249.8L342.2,249.1L346.6,248.3L351.0,247.6L355.3,247.0L359.7,246.6L364.2,246.7L368.8,246.9L373.3,247.1L377.8,247.2L382.3,247.3L386.9,247.4L391.4,247.3L396.0,247.7L400.6,247.2L405.1,246.0L409.7,244.6L414.3,243.5"/>
<path stroke="#b82a9e" d="M243.7,246.0L248.3,246.1L252.8,245.9L257.4,245.5L261.9,245.1L266.5,244.8L270.9,246.3L275.3,248.8L279.8,251.4L284.2,253.2L288.6,253.4L293.1,252.5L297.7,250.9L302.2,248.9L306.8,246.8L311.3,245.0L315.9,244.0L320.4,243.9L324.8,243.7L329.1,244.1L333.5,245.0L337.9,246.2L342.2,247.7L346.6,249.3L351.0,250.7L355.3,251.8L359.7,252.5L364.2,252.8L368.8,252.9L373.3,252.6L377.8,252.1L382.3,251.5L386.9,250.8L391.4,250.2L396.0,250.8L400.6,250.8L405.1,250.2L409.7,249.3L414.3,248.3"/>
<path stroke="#b82a9e" d="M243.7,248.0L248.3,248.6L252.8,249.7L257.4,250.9L261.9,251.7L266.5,251.9L270.9,251.2L275.3,249.2L279.8,246.6L284.2,244.5L288.6,243.6L293.1,244.3L297.7,244.9L302.2,245.4L306.8,245.6L311.3,245.5L315.9,245.1L320.4,244.5L324.8,245.1L329.1,245.7L333.5,246.1L337.9,246.3L342.2,246.3L346.6,246.2L351.0,245.8L355.3,245.3L359.7,244.7L364.2,244.6L368.8,245.0L373.3,245.8L377.8,246.8L382.3,247.8L386.9,248.6L391.4,249.1L396.0,249.4L400.6,248.9L405.1,247.6L409.7,246.3L414.3,245.2"/>
</g>
<path d="M243.7,138.3h2.2M414.3,138.3h-2.2M243.7,161.6h2.2M414.3,161.6h-2.2M243.7,184.8h2.2M414.3,184.8h-2.2M243.7,208.1h2.2M414.3,208.1h-2.2M243.7,231.3h2.2M414.3,231.3h-2.2M243.7,254.6h2.2M414.3,254.6h-2.2M243.7,150.0h1.2M414.3,150.0h-1.2M243.7,173.2h1.2M414.3,173.2h-1.2M243.7,196.5h1.2M414.3,196.5h-1.2M243.7,219.7h1.2M414.3,219.7h-1.2M243.7,243.0h1.2M414.3,243.0h-1.2" stroke="#111" stroke-width="0.8"/>
<path d="M243.7,252V138.5H414.3V252" fill="none" stroke="#111" stroke-width="1.1"/>
<g font-family="Liberation Sans, sans-serif" font-size="8.2" fill="#222" stroke="#222" stroke-width="0.1" text-anchor="end">
<text x="241.3" y="141.2">3</text>
<text x="241.3" y="164.4">2</text>
<text x="241.3" y="187.7">1</text>
<text x="241.3" y="210.9">0</text>
<text x="241.3" y="234.2">-1</text>
<text x="241.3" y="257.4">-2</text>
</g>
<text x="215.3" y="147.8" font-family="Liberation Sans, sans-serif" font-size="10" fill="#222" stroke="#222" stroke-width="0.2">(d)</text>
<text transform="translate(226.2,225.8) rotate(-90)" font-family="Liberation Sans, sans-serif" font-size="10.2" fill="#222" stroke="#222" stroke-width="0.15">Energy (eV)</text>
<text x="321.5" y="207" font-family="Liberation Sans, sans-serif" font-size="7.8" fill="#222" stroke="#222" stroke-width="0.15">0.94 eV</text>
<linearGradient id="cbg" x1="0" y1="0" x2="0" y2="1"><stop offset="0" stop-color="#4a88f6"/><stop offset="0.3" stop-color="#4d6ee2"/><stop offset="0.6" stop-color="#6a4cc8"/><stop offset="1" stop-color="#c4288e"/></linearGradient>
<rect x="426.8" y="138.8" width="7.6" height="114" fill="url(#cbg)" stroke="#111" stroke-width="0.9"/>
<text x="438.8" y="147.3" font-family="Liberation Sans, sans-serif" font-size="8.5" fill="#222" stroke="#222" stroke-width="0.15">W</text>
</svg>
</body></html>
